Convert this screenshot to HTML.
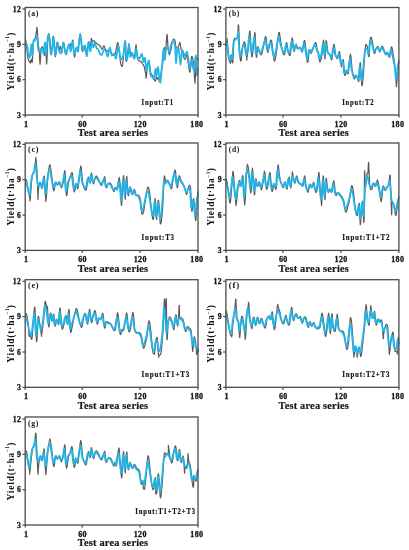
<!DOCTYPE html><html><head><meta charset="utf-8"><style>html,body{margin:0;padding:0;background:#fff;width:409px;height:550px;overflow:hidden}svg{display:block}text{font-family:"Liberation Serif","Times New Roman",serif;font-weight:bold;fill:#161616}</style></head><body>
<svg width="409" height="550" viewBox="0 0 409 550">
<defs><filter id="bl" x="-5%" y="-5%" width="110%" height="110%"><feGaussianBlur stdDeviation="0.35"/></filter></defs>
<g>
<g filter="url(#bl)">
<path fill="none" stroke="#605858" stroke-width="1.2" stroke-linejoin="round" d="M25.5,39.1C25.6,40.0 26.1,42.0 26.4,44.5C26.7,47.0 27.1,51.7 27.4,54.3C27.7,56.9 28.1,59.0 28.4,60.1C28.7,61.2 29.1,60.6 29.4,61.1C29.7,61.6 30.1,63.4 30.4,63.1C30.7,62.8 31.0,59.4 31.3,59.2C31.6,59.0 32.0,63.9 32.3,62.1C32.6,60.3 32.8,52.0 33.0,48.4C33.2,44.8 33.5,42.1 33.8,40.6C34.1,39.0 34.5,39.8 34.8,39.1C35.1,38.5 35.3,37.6 35.5,36.7C35.7,35.8 36.0,35.2 36.2,33.7C36.5,32.2 36.8,26.9 37.0,27.4C37.2,27.9 37.5,33.7 37.7,36.7C38.0,39.7 38.2,43.1 38.5,45.5C38.8,47.9 38.9,48.2 39.2,51.3C39.5,54.4 39.8,64.4 40.1,64.1C40.4,63.8 40.7,52.3 41.1,49.4C41.5,46.5 42.2,46.7 42.6,46.9C43.0,47.1 43.3,49.0 43.6,50.4C43.9,51.8 44.2,56.6 44.5,55.3C44.8,54.0 45.1,41.0 45.5,42.5C45.9,44.0 46.3,64.2 46.7,64.1C47.1,63.9 47.3,46.7 47.7,41.6C48.1,36.5 48.5,33.6 48.9,33.7C49.3,33.9 49.8,39.6 50.2,42.5C50.6,45.4 51.0,50.6 51.4,51.3C51.8,51.9 52.1,48.9 52.4,46.4C52.7,43.9 53.0,36.5 53.3,36.2C53.6,35.9 54.0,41.1 54.3,44.5C54.6,47.9 54.9,56.5 55.3,56.7C55.7,56.9 56.1,47.9 56.5,45.5C56.9,43.1 57.3,41.7 57.7,42.5C58.1,43.3 58.3,49.8 58.7,50.4C59.1,51.1 59.7,46.1 60.2,46.4C60.7,46.7 61.2,52.9 61.7,52.3C62.2,51.7 62.8,43.2 63.3,43.0C63.8,42.8 64.4,49.4 64.9,51.3C65.4,53.2 65.7,54.6 66.1,54.3C66.5,54.0 67.0,50.9 67.4,49.4C67.9,47.9 68.3,46.4 68.8,45.5C69.3,44.6 69.9,43.7 70.3,44.0C70.7,44.3 70.9,48.1 71.3,47.4C71.7,46.8 72.4,39.6 72.8,40.1C73.2,40.6 73.4,47.6 73.7,50.4C74.0,53.3 74.4,57.4 74.7,57.2C75.0,57.0 75.4,51.0 75.7,49.4C76.0,47.8 76.4,47.4 76.7,47.4C77.0,47.4 77.2,50.1 77.6,49.4C77.9,48.8 78.4,46.1 78.8,43.5C79.2,40.9 79.7,34.0 80.1,33.7C80.5,33.4 80.8,39.0 81.1,41.6C81.4,44.2 81.7,47.8 82.0,49.4C82.3,51.0 82.7,51.8 83.0,51.3C83.3,50.8 83.6,46.4 84.0,46.4C84.4,46.4 85.1,50.1 85.5,51.3C85.9,52.4 86.1,54.0 86.4,53.3C86.8,52.7 87.2,49.4 87.6,47.4C88.0,45.5 88.4,41.6 88.9,41.6C89.4,41.6 90.0,47.9 90.4,47.4C90.8,46.9 91.0,39.6 91.3,38.6C91.6,37.6 91.9,41.3 92.3,41.6C92.7,41.9 93.3,40.4 93.8,40.6C94.3,40.7 94.8,42.0 95.3,42.5C95.8,43.0 96.2,43.2 96.7,43.5C97.2,43.8 97.7,44.2 98.2,44.5C98.7,44.8 99.2,45.0 99.7,45.5C100.2,46.0 100.5,47.0 101.0,47.6C101.5,48.2 101.9,49.4 102.4,49.1C102.9,48.8 103.4,45.5 103.9,45.6C104.4,45.7 104.9,48.8 105.4,49.6C105.9,50.4 106.3,50.2 106.8,50.5C107.3,50.8 107.8,51.8 108.3,51.5C108.8,51.2 109.3,48.3 109.8,48.6C110.3,48.9 110.7,52.4 111.2,53.5C111.7,54.6 112.2,55.2 112.7,55.4C113.2,55.5 113.7,54.9 114.2,54.4C114.7,53.9 115.0,54.5 115.6,52.5C116.2,50.6 117.0,43.2 117.6,42.7C118.2,42.2 118.6,46.3 119.1,49.6C119.6,52.9 120.0,59.5 120.5,62.3C121.0,65.1 121.8,67.3 122.3,66.2C122.8,65.0 123.1,59.0 123.5,55.4C123.9,51.8 124.5,43.7 124.9,44.7C125.4,45.7 125.7,60.0 126.2,61.3C126.7,62.6 127.2,55.4 127.7,52.5C128.2,49.6 128.6,43.5 129.0,43.7C129.4,43.9 129.8,52.0 130.3,53.5C130.8,55.0 131.3,52.2 131.8,52.5C132.3,52.8 132.8,54.4 133.3,55.4C133.8,56.4 134.2,60.2 134.7,58.4C135.1,56.6 135.6,45.0 136.0,44.7C136.4,44.4 136.8,53.8 137.2,56.4C137.6,59.0 138.2,59.5 138.6,60.3C139.0,61.1 139.1,60.8 139.5,61.0C139.9,61.2 140.5,61.0 141.0,61.5C141.5,62.0 142.1,63.4 142.5,64.0C142.9,64.6 143.2,64.3 143.5,65.0C143.8,65.7 144.2,66.7 144.5,68.0C144.8,69.3 145.2,71.3 145.5,73.0C145.8,74.7 145.9,78.8 146.2,78.0C146.5,77.2 146.8,70.5 147.2,68.0C147.6,65.5 148.1,63.5 148.5,63.0C148.9,62.5 149.2,63.5 149.5,65.0C149.8,66.5 150.1,70.3 150.5,72.0C150.9,73.7 151.5,74.2 152.0,75.0C152.5,75.8 153.1,76.2 153.5,77.0C153.9,77.8 154.2,79.3 154.5,80.0C154.8,80.7 155.2,81.5 155.5,81.0C155.8,80.5 156.2,77.3 156.5,77.0C156.8,76.7 157.2,78.8 157.5,79.0C157.8,79.2 158.2,77.5 158.5,78.0C158.8,78.5 159.2,82.0 159.5,82.0C159.8,82.0 160.2,80.2 160.5,78.0C160.8,75.8 161.2,71.0 161.5,69.0C161.8,67.0 162.2,68.7 162.5,66.0C162.8,63.3 163.2,56.1 163.5,53.0C163.8,49.9 164.2,47.7 164.5,47.5C164.8,47.3 165.1,54.2 165.5,52.0C165.9,49.8 166.6,35.3 167.0,34.5C167.4,33.7 167.6,43.7 168.0,47.0C168.4,50.3 168.8,54.2 169.3,54.5C169.8,54.8 170.5,51.2 171.0,49.0C171.5,46.7 172.0,42.7 172.5,41.0C173.0,39.3 173.6,39.0 174.0,39.0C174.4,39.0 174.7,39.7 175.0,41.0C175.3,42.3 175.6,45.8 176.0,47.0C176.4,48.2 177.0,48.3 177.5,48.0C178.0,47.7 178.6,45.9 179.0,45.0C179.4,44.1 179.7,41.8 180.0,42.5C180.3,43.2 180.6,47.6 181.0,49.0C181.4,50.4 182.0,49.5 182.5,51.0C183.0,52.5 183.5,56.7 184.0,58.0C184.5,59.3 185.0,59.5 185.5,59.0C186.0,58.5 186.5,54.0 187.0,55.0C187.5,56.0 188.0,62.2 188.5,65.0C189.0,67.8 189.5,73.3 190.0,72.0C190.5,70.7 191.0,59.0 191.5,57.0C192.0,55.0 192.6,58.2 193.0,60.0C193.4,61.8 193.7,64.0 194.0,68.0C194.3,72.0 194.7,84.0 195.0,84.0C195.3,84.0 195.6,72.3 195.8,68.0C196.1,63.7 196.1,59.3 196.5,58.0C196.9,56.7 197.8,59.7 198.0,60.0"/>
<path fill="none" stroke="#22b5e8" stroke-width="1.75" stroke-linejoin="round" d="M25.5,46.5C25.7,46.2 26.4,43.2 26.9,44.5C27.4,45.8 27.9,52.2 28.4,54.3C28.9,56.4 29.4,58.8 29.9,57.2C30.4,55.6 30.9,44.8 31.3,44.5C31.7,44.2 32.0,55.8 32.3,55.3C32.6,54.8 32.9,44.1 33.3,41.6C33.7,39.2 34.3,41.3 34.8,40.6C35.3,39.9 35.8,38.2 36.2,37.6C36.6,36.9 36.9,34.7 37.2,36.7C37.5,38.7 37.8,47.0 38.2,49.4C38.6,51.8 39.1,51.5 39.6,51.3C40.1,51.1 40.6,48.7 41.1,48.4C41.6,48.1 42.2,48.6 42.6,49.4C43.0,50.2 43.2,54.4 43.6,53.3C44.0,52.2 44.6,42.8 45.0,43.0C45.4,43.2 45.5,55.5 46.0,54.3C46.5,53.1 47.4,38.2 48.0,35.7C48.6,33.3 48.9,36.5 49.4,39.6C49.9,42.7 50.4,53.0 50.9,54.3C51.4,55.6 52.0,50.3 52.4,47.4C52.8,44.5 52.9,36.0 53.3,36.7C53.7,37.3 54.4,48.4 54.8,51.3C55.2,54.2 55.4,55.6 55.8,54.3C56.2,53.0 56.7,44.0 57.3,43.5C57.9,43.0 58.6,49.7 59.2,51.3C59.9,52.9 60.7,53.5 61.2,53.3C61.7,53.2 61.6,52.2 62.0,50.4C62.4,48.6 62.9,41.9 63.5,42.5C64.2,43.1 65.2,53.5 65.9,54.3C66.6,55.1 67.3,49.0 67.9,47.4C68.5,45.8 68.8,43.8 69.3,44.5C69.8,45.1 70.2,51.8 70.8,51.3C71.4,50.8 72.2,41.1 72.8,41.6C73.4,42.1 73.5,53.3 74.2,54.3C74.8,55.3 76.0,47.9 76.7,47.4C77.4,46.9 77.5,53.4 78.1,51.3C78.7,49.2 79.5,36.0 80.1,34.7C80.7,33.4 81.1,40.9 81.6,43.5C82.1,46.1 82.4,50.1 83.0,50.4C83.6,50.7 84.3,44.5 85.0,45.5C85.7,46.5 86.3,56.7 86.9,56.2C87.5,55.7 87.8,43.3 88.4,42.5C89.0,41.7 89.8,51.4 90.4,51.3C91.0,51.1 91.3,42.3 91.8,41.6C92.3,41.0 92.8,47.1 93.3,47.4C93.8,47.7 94.2,43.3 94.8,43.5C95.4,43.7 96.1,47.4 96.7,48.4C97.3,49.4 97.6,48.4 98.2,49.4C98.8,50.4 99.5,53.5 100.1,54.3C100.7,55.1 101.4,55.2 102.0,54.4C102.6,53.6 103.2,50.1 103.9,49.6C104.6,49.1 105.2,50.4 105.9,51.5C106.6,52.6 107.2,57.0 107.8,56.4C108.4,55.7 109.1,47.8 109.8,47.6C110.5,47.4 111.0,54.4 111.7,55.4C112.4,56.4 113.5,53.0 114.2,53.5C114.9,54.0 115.5,59.7 116.1,58.4C116.8,57.1 117.5,46.1 118.1,45.6C118.8,45.1 119.4,53.1 120.0,55.4C120.6,57.7 120.9,59.5 121.5,59.3C122.1,59.1 122.9,57.5 123.5,54.4C124.1,51.3 124.7,40.0 125.2,40.8C125.7,41.6 126.0,56.9 126.4,59.3C126.9,61.7 127.5,57.8 127.9,55.4C128.3,53.0 128.7,44.5 129.1,44.7C129.5,44.9 129.8,54.9 130.3,56.4C130.8,57.9 131.6,53.2 132.3,53.5C132.9,53.8 133.5,59.2 134.2,58.4C134.8,57.6 135.6,48.6 136.2,48.6C136.8,48.6 137.1,56.9 137.7,58.4C138.3,59.9 139.2,57.5 139.6,57.4C140.0,57.3 139.6,58.6 140.0,58.0C140.4,57.4 141.4,53.3 142.0,54.0C142.6,54.7 143.0,61.3 143.5,62.0C144.0,62.7 144.5,56.7 145.0,58.0C145.5,59.3 146.0,69.2 146.5,70.0C147.0,70.8 147.6,64.5 148.0,63.0C148.4,61.5 148.6,59.0 149.0,61.0C149.4,63.0 149.9,72.3 150.5,75.0C151.1,77.7 151.9,76.3 152.5,77.0C153.1,77.7 153.5,80.3 154.0,79.0C154.5,77.7 155.1,69.5 155.5,69.0C155.9,68.5 156.1,76.3 156.5,76.0C156.9,75.7 157.5,66.5 158.0,67.0C158.5,67.5 159.1,76.5 159.5,79.0C159.9,81.5 160.1,84.0 160.5,82.0C160.9,80.0 161.5,72.4 162.0,67.0C162.5,61.6 163.0,50.7 163.5,49.5C164.0,48.3 164.6,60.2 165.0,60.0C165.4,59.8 165.5,49.8 166.0,48.0C166.5,46.2 167.4,48.3 168.0,49.0C168.6,49.7 169.0,52.7 169.5,52.0C170.0,51.3 170.4,46.8 171.0,45.0C171.6,43.2 172.3,40.8 173.0,41.0C173.7,41.2 174.5,42.3 175.0,46.0C175.5,49.7 175.6,62.7 176.0,63.0C176.4,63.3 177.0,50.0 177.5,48.0C178.0,46.0 178.5,48.2 179.0,51.0C179.5,53.8 180.0,65.0 180.5,65.0C181.0,65.0 181.5,53.0 182.0,51.0C182.5,49.0 183.0,52.2 183.5,53.0C184.0,53.8 184.4,56.2 185.0,56.0C185.6,55.8 186.4,51.3 187.0,52.0C187.6,52.7 188.0,57.2 188.5,60.0C189.0,62.8 189.4,68.8 190.0,69.0C190.6,69.2 191.4,60.8 192.0,61.0C192.6,61.2 193.0,70.0 193.5,70.0C194.0,70.0 194.6,63.3 195.0,61.0C195.4,58.7 195.7,53.7 196.0,56.0C196.3,58.3 196.5,73.0 196.8,75.0C197.1,77.0 197.8,69.2 198.0,68.0"/>
</g>
<rect x="25.2" y="7.5" width="172.8" height="107.5" fill="none" stroke="#4a4a4a" stroke-width="1.3"/>
<line x1="22.4" y1="9.0" x2="25.2" y2="9.0" stroke="#4a4a4a" stroke-width="1.2"/>
<text x="21.3" y="11.7" font-size="7.7" letter-spacing="0.4" text-anchor="end" stroke="#161616" stroke-width="0.3">12</text>
<line x1="22.4" y1="44.3" x2="25.2" y2="44.3" stroke="#4a4a4a" stroke-width="1.2"/>
<text x="21.3" y="47.0" font-size="7.7" letter-spacing="0.4" text-anchor="end" stroke="#161616" stroke-width="0.3">9</text>
<line x1="22.4" y1="79.7" x2="25.2" y2="79.7" stroke="#4a4a4a" stroke-width="1.2"/>
<text x="21.3" y="82.4" font-size="7.7" letter-spacing="0.4" text-anchor="end" stroke="#161616" stroke-width="0.3">6</text>
<line x1="22.4" y1="115.0" x2="25.2" y2="115.0" stroke="#4a4a4a" stroke-width="1.2"/>
<text x="21.3" y="117.7" font-size="7.7" letter-spacing="0.4" text-anchor="end" stroke="#161616" stroke-width="0.3">3</text>
<line x1="25.2" y1="115.0" x2="25.2" y2="117.6" stroke="#4a4a4a" stroke-width="1.2"/>
<text x="26.1" y="127.0" font-size="8.0" letter-spacing="0.35" text-anchor="middle" stroke="#161616" stroke-width="0.3">1</text>
<line x1="82.2" y1="115.0" x2="82.2" y2="117.6" stroke="#4a4a4a" stroke-width="1.2"/>
<text x="82.6" y="127.0" font-size="8.0" letter-spacing="0.35" text-anchor="middle" stroke="#161616" stroke-width="0.3">60</text>
<line x1="140.1" y1="115.0" x2="140.1" y2="117.6" stroke="#4a4a4a" stroke-width="1.2"/>
<text x="140.3" y="127.0" font-size="8.0" letter-spacing="0.35" text-anchor="middle" stroke="#161616" stroke-width="0.3">120</text>
<line x1="198.0" y1="115.0" x2="198.0" y2="117.6" stroke="#4a4a4a" stroke-width="1.2"/>
<text x="196.9" y="127.0" font-size="8.0" letter-spacing="0.35" text-anchor="middle" stroke="#161616" stroke-width="0.3">180</text>
<text x="77.8" y="136.2" font-size="10.3" letter-spacing="0.2" stroke="#161616" stroke-width="0.2" textLength="70.5" lengthAdjust="spacingAndGlyphs">Test area series</text>
<text transform="translate(13.6,90.4) rotate(-90)" font-size="9.4" letter-spacing="0.8" textLength="58.5" lengthAdjust="spacingAndGlyphs">Yield(t·ha<tspan font-size="5.2" dy="-4.4" letter-spacing="0.3">−1</tspan><tspan dy="4.4">)</tspan></text>
<text x="28.1" y="16.1" font-size="8" letter-spacing="0.6" textLength="11" lengthAdjust="spacingAndGlyphs">(a)</text>
<text x="141.5" y="104.9" font-size="7.4" letter-spacing="0.9" stroke="#161616" stroke-width="0.2" textLength="32.4" lengthAdjust="spacingAndGlyphs">Input:T1</text>
</g>
<g>
<g filter="url(#bl)">
<path fill="none" stroke="#605858" stroke-width="1.2" stroke-linejoin="round" d="M227.0,37.9C227.3,41.4 228.5,54.7 229.0,58.8C229.5,63.0 229.9,62.1 230.2,62.7C230.5,63.3 230.5,63.8 230.7,62.5C230.9,61.2 231.2,55.2 231.5,55.2C231.9,55.2 232.4,64.8 232.8,62.4C233.2,59.9 233.5,44.3 234.0,40.3C234.5,36.4 235.3,39.5 235.9,38.8C236.6,38.0 237.5,37.8 237.9,35.8C238.3,33.9 238.0,28.6 238.1,27.2C238.2,25.8 238.4,22.7 238.7,27.2C239.0,31.7 239.4,48.4 239.8,54.0C240.2,59.6 240.5,62.1 241.0,60.8C241.5,59.4 242.3,48.8 242.9,45.8C243.6,42.8 244.2,40.5 244.8,42.5C245.5,44.5 246.4,55.3 246.7,58.0C247.1,60.7 246.5,60.7 246.8,59.0C247.1,57.2 247.9,52.2 248.4,47.5C248.9,42.9 249.4,29.6 249.9,31.1C250.5,32.6 251.2,54.6 251.8,56.6C252.5,58.6 253.2,47.1 253.7,43.1C254.3,39.2 254.6,30.7 255.0,33.0C255.5,35.3 255.9,54.7 256.3,57.0C256.8,59.3 257.3,47.8 257.8,46.9C258.4,46.0 258.9,50.2 259.5,51.5C260.1,52.8 260.8,55.4 261.4,54.7C262.1,53.9 262.6,50.1 263.3,47.0C264.1,44.0 265.1,35.7 265.8,36.6C266.6,37.5 267.1,51.0 267.7,52.2C268.4,53.4 269.0,45.8 269.7,44.0C270.3,42.1 270.8,38.3 271.6,41.1C272.3,43.9 273.4,58.6 274.2,60.6C274.9,62.7 275.5,58.0 276.3,53.4C277.0,48.7 278.1,34.5 278.9,32.6C279.6,30.8 280.1,38.9 280.8,42.1C281.4,45.3 282.0,49.9 282.7,52.0C283.3,54.0 283.9,55.9 284.6,54.3C285.2,52.8 285.8,42.8 286.5,42.5C287.1,42.2 287.7,50.4 288.4,52.5C289.0,54.5 289.6,57.0 290.3,54.6C290.9,52.1 291.5,38.5 292.2,37.9C292.8,37.3 293.4,50.1 294.1,51.2C294.7,52.2 295.3,44.6 296.0,44.2C296.6,43.8 297.1,48.3 297.9,48.8C298.6,49.4 299.7,47.0 300.5,47.5C301.2,48.0 301.7,52.9 302.4,51.8C303.1,50.6 303.8,38.9 304.7,40.6C305.5,42.4 306.7,60.8 307.5,62.3C308.3,63.9 308.8,51.3 309.4,49.8C310.0,48.3 310.6,53.8 311.3,53.3C312.0,52.8 313.1,48.3 313.8,46.6C314.5,44.8 315.1,42.0 315.7,42.7C316.3,43.5 317.1,49.7 317.6,51.3C318.1,52.9 318.1,50.7 318.5,52.5C318.9,54.3 319.3,61.3 319.8,61.9C320.3,62.4 321.1,59.4 321.7,55.8C322.3,52.1 323.1,39.5 323.6,40.1C324.1,40.6 324.5,58.9 324.9,59.0C325.3,59.2 325.6,41.8 326.1,40.7C326.6,39.6 327.4,50.0 328.0,52.4C328.7,54.8 329.4,53.9 330.0,55.1C330.7,56.3 331.3,61.3 331.9,59.6C332.6,57.8 333.2,45.0 333.8,44.3C334.5,43.6 335.1,53.0 335.7,55.3C336.4,57.7 337.0,59.1 337.6,58.5C338.3,57.9 338.9,50.5 339.5,51.7C340.1,53.0 341.0,63.8 341.3,66.0C341.7,68.2 341.1,65.9 341.4,64.9C341.8,63.9 342.8,58.3 343.3,60.0C343.9,61.7 344.1,73.1 344.6,75.1C345.2,77.0 345.9,72.1 346.5,71.8C347.2,71.4 347.8,75.8 348.4,72.9C349.1,69.9 349.7,54.6 350.3,54.1C351.0,53.7 351.6,66.0 352.2,70.2C352.9,74.3 353.5,78.0 354.1,78.9C354.8,79.7 355.4,75.1 356.1,75.2C356.7,75.3 357.5,78.4 358.0,79.3C358.4,80.2 358.5,83.2 358.9,80.4C359.2,77.6 359.8,61.9 360.3,62.7C360.8,63.6 361.3,83.7 361.9,85.5C362.4,87.2 362.9,79.8 363.5,73.4C364.0,67.0 364.7,51.3 365.4,46.8C366.0,42.4 366.7,45.1 367.3,46.8C367.9,48.4 368.4,58.0 369.0,56.6C369.5,55.1 369.9,40.5 370.5,38.0C371.0,35.5 371.7,39.2 372.4,41.8C373.0,44.3 373.6,52.2 374.3,53.4C374.9,54.5 375.5,50.0 376.2,48.8C376.8,47.7 377.4,46.0 378.1,46.6C378.7,47.2 379.3,52.3 380.0,52.2C380.6,52.2 381.2,46.7 381.9,46.2C382.5,45.8 383.2,48.2 383.9,49.6C384.5,51.0 385.2,54.1 385.8,54.6C386.4,55.1 387.1,52.0 387.7,52.5C388.3,52.9 389.0,58.2 389.6,57.3C390.2,56.4 390.9,47.2 391.5,46.9C392.1,46.6 392.8,51.8 393.4,55.5C394.0,59.3 394.8,64.7 395.3,69.4C395.8,74.2 396.1,81.4 396.3,84.0C396.5,86.6 396.3,87.9 396.6,84.9C396.9,81.9 397.8,70.2 398.2,66.1C398.6,61.9 398.8,61.0 398.9,60.0"/>
<path fill="none" stroke="#22b5e8" stroke-width="1.75" stroke-linejoin="round" d="M226.5,41.0C226.8,43.6 228.0,53.1 228.5,56.3C229.0,59.5 229.3,60.3 229.7,60.1C230.1,59.9 230.6,55.2 231.0,55.0C231.4,54.8 231.9,61.0 232.3,58.9C232.7,56.8 233.0,45.5 233.5,42.3C234.0,39.1 234.8,40.6 235.4,39.8C236.1,39.0 236.9,38.6 237.4,37.3C237.9,36.0 237.9,29.9 238.2,32.2C238.5,34.5 238.9,47.2 239.3,51.2C239.7,55.2 240.0,56.9 240.5,56.3C241.0,55.7 241.8,49.3 242.4,47.4C243.1,45.5 243.7,43.6 244.3,44.9C245.0,46.2 245.7,54.6 246.3,55.0C246.9,55.4 247.4,50.6 247.9,47.4C248.4,44.2 248.9,35.2 249.4,36.0C250.0,36.9 250.7,51.2 251.3,52.5C252.0,53.8 252.7,46.1 253.2,43.6C253.8,41.1 254.1,35.6 254.5,37.3C255.0,39.0 255.4,52.1 255.8,53.8C256.3,55.5 256.8,47.8 257.3,47.4C257.9,47.0 258.4,50.3 259.0,51.2C259.6,52.0 260.3,53.1 260.9,52.5C261.6,51.9 262.1,49.5 262.8,47.4C263.6,45.3 264.6,39.4 265.3,39.8C266.1,40.2 266.6,49.1 267.2,50.0C267.9,50.9 268.5,46.0 269.1,44.9C269.8,43.8 270.3,41.7 271.1,43.6C271.8,45.5 272.9,55.0 273.7,56.3C274.4,57.6 275.0,54.4 275.8,51.2C276.5,48.0 277.6,38.6 278.4,37.3C279.1,36.0 279.6,41.5 280.3,43.6C280.9,45.7 281.5,48.5 282.2,50.0C282.8,51.5 283.4,53.4 284.1,52.5C284.7,51.7 285.3,45.1 286.0,44.9C286.6,44.7 287.2,49.9 287.9,51.2C288.5,52.5 289.1,54.2 289.8,52.5C290.4,50.8 291.0,41.4 291.7,41.0C292.3,40.6 292.9,49.4 293.6,50.0C294.2,50.6 294.8,45.1 295.5,44.9C296.1,44.7 296.6,48.3 297.4,48.7C298.1,49.1 299.2,47.0 300.0,47.4C300.7,47.8 301.2,51.8 301.9,51.2C302.6,50.6 303.3,42.3 304.2,43.6C305.0,44.9 306.2,57.8 307.0,58.9C307.8,60.0 308.3,51.1 308.9,50.0C309.5,48.9 310.1,52.9 310.8,52.5C311.5,52.1 312.6,48.7 313.3,47.4C314.0,46.1 314.6,44.3 315.2,44.9C315.8,45.5 316.6,49.9 317.1,51.2C317.6,52.5 317.6,51.2 318.0,52.5C318.4,53.8 318.8,58.5 319.3,58.9C319.8,59.3 320.6,57.6 321.2,55.0C321.8,52.5 322.6,43.4 323.1,43.6C323.6,43.8 324.0,56.3 324.4,56.3C324.8,56.3 325.1,44.2 325.6,43.6C326.1,43.0 326.9,50.8 327.5,52.5C328.2,54.2 328.9,52.9 329.5,53.8C330.2,54.6 330.8,58.7 331.4,57.6C332.1,56.5 332.7,47.8 333.3,47.4C334.0,47.0 334.6,53.3 335.2,55.0C335.9,56.7 336.5,57.8 337.1,57.6C337.8,57.4 338.4,52.7 339.0,53.8C339.7,54.9 340.3,62.7 340.9,64.0C341.6,65.3 342.3,59.9 342.8,61.4C343.4,62.9 343.6,71.4 344.1,72.9C344.7,74.4 345.4,70.5 346.0,70.3C346.7,70.1 347.3,73.5 347.9,71.6C348.6,69.7 349.2,59.1 349.8,58.9C350.5,58.7 351.1,67.3 351.7,70.3C352.4,73.3 353.0,75.8 353.6,76.7C354.3,77.6 354.9,75.2 355.5,75.4C356.2,75.6 357.0,77.4 357.5,78.0C357.9,78.6 358.0,80.9 358.4,79.0C358.7,77.1 359.3,66.2 359.8,66.5C360.3,66.8 360.8,79.9 361.4,80.5C361.9,81.1 362.4,75.2 363.0,70.3C363.5,65.4 364.2,54.8 364.9,51.2C365.5,47.6 366.2,48.3 366.8,48.7C367.4,49.1 367.9,55.1 368.5,53.8C369.0,52.5 369.4,42.7 370.0,41.0C370.5,39.3 371.2,41.9 371.9,43.6C372.5,45.3 373.1,50.3 373.8,51.2C374.4,52.0 375.0,49.3 375.7,48.7C376.3,48.1 376.9,47.0 377.6,47.4C378.2,47.8 378.8,51.2 379.5,51.2C380.1,51.2 380.7,47.6 381.4,47.4C382.0,47.2 382.7,48.9 383.4,50.0C384.0,51.1 384.7,53.4 385.3,53.8C385.9,54.2 386.6,52.1 387.2,52.5C387.8,52.9 388.5,56.7 389.1,56.3C389.7,55.9 390.4,49.8 391.0,50.0C391.6,50.2 392.3,54.6 392.9,57.6C393.5,60.6 394.3,64.2 394.8,67.8C395.3,71.4 395.6,79.4 396.1,79.2C396.6,79.0 397.2,69.4 397.7,66.5C398.2,63.6 398.7,62.8 398.9,62.0"/>
</g>
<rect x="225.9" y="7.5" width="173.0" height="107.5" fill="none" stroke="#4a4a4a" stroke-width="1.3"/>
<line x1="223.1" y1="9.0" x2="225.9" y2="9.0" stroke="#4a4a4a" stroke-width="1.2"/>
<text x="222.0" y="11.7" font-size="7.7" letter-spacing="0.4" text-anchor="end" stroke="#161616" stroke-width="0.3">12</text>
<line x1="223.1" y1="44.3" x2="225.9" y2="44.3" stroke="#4a4a4a" stroke-width="1.2"/>
<text x="222.0" y="47.0" font-size="7.7" letter-spacing="0.4" text-anchor="end" stroke="#161616" stroke-width="0.3">9</text>
<line x1="223.1" y1="79.7" x2="225.9" y2="79.7" stroke="#4a4a4a" stroke-width="1.2"/>
<text x="222.0" y="82.4" font-size="7.7" letter-spacing="0.4" text-anchor="end" stroke="#161616" stroke-width="0.3">6</text>
<line x1="223.1" y1="115.0" x2="225.9" y2="115.0" stroke="#4a4a4a" stroke-width="1.2"/>
<text x="222.0" y="117.7" font-size="7.7" letter-spacing="0.4" text-anchor="end" stroke="#161616" stroke-width="0.3">3</text>
<line x1="225.9" y1="115.0" x2="225.9" y2="117.6" stroke="#4a4a4a" stroke-width="1.2"/>
<text x="226.8" y="127.0" font-size="8.0" letter-spacing="0.35" text-anchor="middle" stroke="#161616" stroke-width="0.3">1</text>
<line x1="282.9" y1="115.0" x2="282.9" y2="117.6" stroke="#4a4a4a" stroke-width="1.2"/>
<text x="283.3" y="127.0" font-size="8.0" letter-spacing="0.35" text-anchor="middle" stroke="#161616" stroke-width="0.3">60</text>
<line x1="340.9" y1="115.0" x2="340.9" y2="117.6" stroke="#4a4a4a" stroke-width="1.2"/>
<text x="341.1" y="127.0" font-size="8.0" letter-spacing="0.35" text-anchor="middle" stroke="#161616" stroke-width="0.3">120</text>
<line x1="398.9" y1="115.0" x2="398.9" y2="117.6" stroke="#4a4a4a" stroke-width="1.2"/>
<text x="397.8" y="127.0" font-size="8.0" letter-spacing="0.35" text-anchor="middle" stroke="#161616" stroke-width="0.3">180</text>
<text x="278.5" y="136.2" font-size="10.3" letter-spacing="0.2" stroke="#161616" stroke-width="0.2" textLength="70.5" lengthAdjust="spacingAndGlyphs">Test area series</text>
<text transform="translate(214.3,90.4) rotate(-90)" font-size="9.4" letter-spacing="0.8" textLength="58.5" lengthAdjust="spacingAndGlyphs">Yield(t·ha<tspan font-size="5.2" dy="-4.4" letter-spacing="0.3">−1</tspan><tspan dy="4.4">)</tspan></text>
<text x="228.8" y="16.1" font-size="8" letter-spacing="0.6" textLength="11" lengthAdjust="spacingAndGlyphs">(b)</text>
<text x="342.2" y="104.9" font-size="7.4" letter-spacing="0.9" stroke="#161616" stroke-width="0.2" textLength="32.1" lengthAdjust="spacingAndGlyphs">Input:T2</text>
</g>
<g>
<g filter="url(#bl)">
<path fill="none" stroke="#605858" stroke-width="1.2" stroke-linejoin="round" d="M26.4,179.3C26.7,181.1 27.8,187.1 28.3,190.2C28.9,193.2 29.4,196.1 29.7,197.7C30.0,199.3 29.9,202.5 30.2,199.9C30.5,197.3 31.1,186.7 31.5,182.3C31.9,177.9 32.3,175.3 32.8,173.5C33.3,171.8 33.9,173.7 34.4,171.6C34.9,169.6 35.2,163.4 35.5,161.2C35.8,159.0 35.6,155.9 35.9,158.4C36.2,160.9 36.9,169.3 37.2,176.1C37.6,182.9 37.8,196.8 38.0,199.0C38.2,201.2 38.1,192.1 38.5,189.4C38.9,186.6 39.8,182.7 40.4,182.5C41.0,182.3 41.7,189.4 42.3,188.3C42.9,187.2 43.7,174.7 44.2,176.2C44.8,177.7 45.3,193.5 45.6,197.4C45.9,201.3 45.7,203.0 46.1,199.5C46.5,196.0 47.4,182.2 48.0,176.4C48.6,170.5 49.3,164.5 49.9,164.6C50.5,164.6 51.2,172.2 51.8,176.6C52.4,181.0 53.1,189.8 53.7,190.7C54.4,191.6 55.1,183.1 55.7,182.2C56.4,181.2 57.0,185.2 57.6,185.1C58.2,185.1 58.9,181.3 59.5,181.8C60.1,182.3 60.8,188.0 61.4,188.0C62.0,188.0 62.7,184.8 63.3,181.9C63.9,179.1 64.4,168.7 64.9,170.9C65.4,173.2 65.8,193.5 66.4,195.5C67.0,197.6 67.8,186.4 68.4,183.2C69.0,180.0 69.6,178.0 70.3,176.4C71.0,174.8 71.8,171.0 72.4,173.5C73.0,176.0 73.5,189.7 74.1,191.6C74.7,193.4 75.5,185.5 76.2,184.8C76.9,184.2 77.3,191.0 78.1,187.9C78.8,184.8 80.0,167.0 80.7,166.1C81.5,165.2 82.0,178.6 82.6,182.3C83.2,186.0 83.9,187.3 84.5,188.5C85.1,189.7 85.8,191.2 86.4,189.3C87.0,187.4 87.7,178.2 88.3,177.1C88.9,176.1 89.7,183.7 90.2,183.0C90.7,182.3 91.0,172.7 91.5,172.9C92.0,173.0 92.7,183.2 93.4,183.8C94.1,184.3 95.1,177.0 95.9,176.3C96.8,175.5 97.7,177.9 98.5,179.3C99.3,180.8 100.3,184.7 101.0,185.2C101.7,185.7 102.3,183.9 102.9,182.5C103.5,181.1 104.3,175.8 104.8,176.7C105.3,177.5 105.5,186.5 106.1,187.6C106.7,188.7 107.8,183.8 108.6,183.2C109.4,182.7 110.3,183.0 111.2,184.3C112.1,185.7 113.0,190.9 113.7,191.5C114.4,192.1 115.0,188.3 115.6,187.9C116.2,187.6 116.9,191.1 117.5,189.4C118.1,187.6 118.7,177.2 119.2,177.4C119.7,177.7 120.3,186.4 120.7,191.0C121.1,195.6 121.1,207.5 121.6,205.0C122.1,202.4 122.9,176.6 123.5,175.7C124.1,174.7 124.6,199.1 125.1,199.3C125.6,199.4 126.2,177.1 126.7,176.5C127.2,175.8 127.6,193.8 128.2,195.5C128.8,197.2 129.5,186.9 130.2,186.8C130.9,186.7 131.7,194.3 132.4,194.7C133.1,195.1 133.7,188.9 134.3,189.0C134.9,189.0 135.4,193.9 136.2,195.0C136.9,196.0 138.1,194.3 138.8,195.4C139.6,196.4 140.2,198.1 140.7,201.2C141.2,204.2 141.4,212.1 141.9,213.7C142.4,215.3 143.2,213.1 143.8,210.5C144.4,208.0 145.0,202.1 145.7,198.2C146.3,194.3 147.0,188.3 147.7,187.3C148.3,186.3 149.0,188.2 149.6,192.1C150.2,196.0 150.9,205.9 151.5,210.4C152.1,214.9 152.8,221.2 153.4,219.2C154.0,217.1 154.8,198.1 155.3,198.2C155.8,198.2 156.0,219.1 156.5,219.4C157.0,219.8 157.8,199.3 158.5,200.1C159.2,200.8 159.7,222.4 160.4,223.8C161.1,225.2 162.0,216.2 162.6,208.4C163.2,200.6 163.7,181.5 164.2,177.1C164.7,172.7 165.2,181.6 165.8,182.1C166.4,182.6 167.1,179.8 167.7,180.2C168.3,180.5 169.0,182.7 169.6,184.2C170.2,185.6 170.9,189.8 171.5,188.7C172.1,187.6 172.8,180.4 173.4,177.3C174.0,174.3 174.7,168.8 175.3,170.5C175.9,172.2 176.6,186.7 177.2,187.6C177.8,188.6 178.5,177.2 179.1,176.0C179.7,174.8 180.4,179.2 181.0,180.4C181.6,181.6 182.3,182.1 182.9,183.4C183.5,184.6 184.2,186.0 184.8,187.8C185.4,189.7 186.1,194.6 186.7,194.4C187.3,194.2 188.0,187.9 188.6,186.7C189.2,185.6 190.0,183.4 190.5,187.5C191.0,191.6 191.3,209.3 191.8,211.2C192.3,213.1 193.1,197.2 193.7,198.8C194.3,200.4 195.1,219.9 195.6,220.6C196.1,221.4 196.5,208.4 196.9,203.5C197.3,198.6 197.8,193.2 198.0,191.2"/>
<path fill="none" stroke="#22b5e8" stroke-width="1.75" stroke-linejoin="round" d="M25.9,181.2C26.2,182.5 27.2,186.5 27.8,188.8C28.4,191.1 29.2,196.2 29.7,195.1C30.2,194.0 30.6,185.8 31.0,182.4C31.4,179.0 31.8,176.5 32.3,174.8C32.8,173.1 33.4,174.2 33.9,172.3C34.4,170.4 34.9,162.8 35.4,163.4C35.9,164.0 36.3,172.3 36.7,176.1C37.1,179.9 37.5,185.2 38.0,186.2C38.5,187.2 39.3,182.2 39.9,182.4C40.5,182.6 41.2,188.1 41.8,187.5C42.4,186.9 43.1,177.5 43.7,178.6C44.3,179.7 45.0,194.1 45.6,193.9C46.2,193.7 46.9,181.3 47.5,177.3C48.1,173.3 48.8,169.7 49.4,169.7C50.0,169.7 50.7,174.3 51.3,177.3C51.9,180.3 52.6,186.7 53.2,187.5C53.9,188.3 54.6,182.8 55.2,182.4C55.9,182.0 56.5,185.0 57.1,185.0C57.7,185.0 58.4,182.2 59.0,182.4C59.6,182.6 60.3,186.2 60.9,186.2C61.5,186.2 62.2,184.3 62.8,182.4C63.4,180.5 63.9,173.3 64.4,174.8C64.9,176.3 65.3,190.0 65.9,191.3C66.5,192.6 67.2,184.5 67.9,182.4C68.6,180.3 69.1,179.7 69.8,178.6C70.5,177.6 71.3,174.4 71.9,176.1C72.5,177.8 73.0,187.5 73.6,188.8C74.2,190.1 75.0,184.1 75.7,183.7C76.4,183.3 76.8,188.3 77.6,186.2C78.3,184.1 79.5,171.6 80.2,171.0C81.0,170.4 81.5,179.9 82.1,182.4C82.7,184.9 83.4,185.4 84.0,186.2C84.6,187.1 85.3,188.8 85.9,187.5C86.5,186.2 87.2,179.5 87.8,178.6C88.4,177.8 89.2,183.0 89.7,182.4C90.2,181.8 90.5,174.8 91.0,174.8C91.5,174.8 92.2,182.0 92.9,182.4C93.6,182.8 94.6,177.7 95.4,177.3C96.2,176.9 97.2,178.8 98.0,179.9C98.8,181.0 99.8,183.3 100.5,183.7C101.2,184.1 101.8,183.2 102.4,182.4C103.0,181.5 103.8,178.0 104.3,178.6C104.8,179.2 105.0,185.4 105.6,186.2C106.2,187.1 107.2,183.9 108.1,183.7C108.9,183.5 109.8,183.9 110.7,185.0C111.6,186.1 112.5,189.7 113.2,190.1C113.9,190.5 114.5,187.7 115.1,187.5C115.7,187.3 116.4,189.9 117.0,188.8C117.6,187.8 118.2,181.0 118.7,181.2C119.2,181.4 119.8,186.9 120.2,190.1C120.6,193.3 120.6,201.9 121.1,200.2C121.6,198.5 122.4,180.5 123.0,179.9C123.6,179.3 124.1,196.4 124.6,196.4C125.1,196.4 125.7,180.3 126.2,179.9C126.7,179.5 127.1,192.6 127.7,193.9C128.3,195.2 129.0,187.5 129.7,187.5C130.4,187.5 131.2,193.5 131.9,193.9C132.6,194.3 133.2,189.9 133.8,190.1C134.4,190.3 134.9,194.1 135.7,195.1C136.4,196.2 137.6,195.3 138.3,196.4C139.1,197.5 139.7,199.2 140.2,201.5C140.7,203.8 140.9,209.3 141.4,210.4C141.9,211.5 142.7,209.8 143.3,207.9C143.9,206.0 144.5,201.8 145.2,199.0C145.8,196.2 146.5,192.0 147.2,191.3C147.8,190.7 148.5,192.3 149.1,195.1C149.7,197.9 150.4,204.5 151.0,207.9C151.6,211.3 152.3,216.6 152.9,215.5C153.5,214.4 154.3,201.3 154.8,201.5C155.3,201.7 155.5,216.6 156.0,216.8C156.5,217.0 157.3,202.6 158.0,202.8C158.7,203.0 159.2,217.6 159.9,218.0C160.6,218.4 161.5,211.2 162.1,205.3C162.7,199.4 163.2,186.0 163.7,182.4C164.2,178.8 164.7,183.9 165.3,183.7C165.9,183.5 166.6,181.2 167.2,181.2C167.8,181.2 168.5,182.9 169.1,183.7C169.7,184.5 170.4,187.1 171.0,186.2C171.6,185.4 172.3,180.7 172.9,178.6C173.5,176.5 174.2,172.4 174.8,173.5C175.4,174.6 176.1,184.4 176.7,185.0C177.3,185.6 178.0,177.9 178.6,177.3C179.2,176.7 179.9,180.1 180.5,181.2C181.1,182.3 181.8,182.7 182.4,183.7C183.0,184.8 183.7,186.0 184.3,187.5C184.9,189.0 185.6,192.4 186.2,192.6C186.8,192.8 187.5,189.2 188.1,188.8C188.7,188.4 189.5,186.9 190.0,190.1C190.5,193.3 190.8,206.2 191.3,207.9C191.8,209.6 192.6,198.9 193.2,200.2C193.8,201.5 194.6,215.1 195.1,215.5C195.6,215.9 195.9,206.4 196.4,202.8C196.9,199.2 197.7,195.4 198.0,193.9"/>
</g>
<rect x="25.2" y="143.0" width="172.8" height="107.4" fill="none" stroke="#4a4a4a" stroke-width="1.3"/>
<line x1="22.4" y1="144.4" x2="25.2" y2="144.4" stroke="#4a4a4a" stroke-width="1.2"/>
<text x="21.3" y="147.1" font-size="7.7" letter-spacing="0.4" text-anchor="end" stroke="#161616" stroke-width="0.3">12</text>
<line x1="22.4" y1="179.7" x2="25.2" y2="179.7" stroke="#4a4a4a" stroke-width="1.2"/>
<text x="21.3" y="182.4" font-size="7.7" letter-spacing="0.4" text-anchor="end" stroke="#161616" stroke-width="0.3">9</text>
<line x1="22.4" y1="215.1" x2="25.2" y2="215.1" stroke="#4a4a4a" stroke-width="1.2"/>
<text x="21.3" y="217.8" font-size="7.7" letter-spacing="0.4" text-anchor="end" stroke="#161616" stroke-width="0.3">6</text>
<line x1="22.4" y1="250.4" x2="25.2" y2="250.4" stroke="#4a4a4a" stroke-width="1.2"/>
<text x="21.3" y="253.1" font-size="7.7" letter-spacing="0.4" text-anchor="end" stroke="#161616" stroke-width="0.3">3</text>
<line x1="25.2" y1="250.4" x2="25.2" y2="253.0" stroke="#4a4a4a" stroke-width="1.2"/>
<text x="26.1" y="262.4" font-size="8.0" letter-spacing="0.35" text-anchor="middle" stroke="#161616" stroke-width="0.3">1</text>
<line x1="82.2" y1="250.4" x2="82.2" y2="253.0" stroke="#4a4a4a" stroke-width="1.2"/>
<text x="82.6" y="262.4" font-size="8.0" letter-spacing="0.35" text-anchor="middle" stroke="#161616" stroke-width="0.3">60</text>
<line x1="140.1" y1="250.4" x2="140.1" y2="253.0" stroke="#4a4a4a" stroke-width="1.2"/>
<text x="140.3" y="262.4" font-size="8.0" letter-spacing="0.35" text-anchor="middle" stroke="#161616" stroke-width="0.3">120</text>
<line x1="198.0" y1="250.4" x2="198.0" y2="253.0" stroke="#4a4a4a" stroke-width="1.2"/>
<text x="196.9" y="262.4" font-size="8.0" letter-spacing="0.35" text-anchor="middle" stroke="#161616" stroke-width="0.3">180</text>
<text x="77.8" y="271.6" font-size="10.3" letter-spacing="0.2" stroke="#161616" stroke-width="0.2" textLength="70.5" lengthAdjust="spacingAndGlyphs">Test area series</text>
<text transform="translate(13.6,225.8) rotate(-90)" font-size="9.4" letter-spacing="0.8" textLength="58.5" lengthAdjust="spacingAndGlyphs">Yield(t·ha<tspan font-size="5.2" dy="-4.4" letter-spacing="0.3">−1</tspan><tspan dy="4.4">)</tspan></text>
<text x="28.1" y="151.6" font-size="8" letter-spacing="0.6" textLength="11" lengthAdjust="spacingAndGlyphs">(c)</text>
<text x="141.5" y="240.3" font-size="7.4" letter-spacing="0.9" stroke="#161616" stroke-width="0.2" textLength="33.3" lengthAdjust="spacingAndGlyphs">Input:T3</text>
</g>
<g>
<g filter="url(#bl)">
<path fill="none" stroke="#605858" stroke-width="1.2" stroke-linejoin="round" d="M226.4,179.0C226.7,180.8 227.7,185.8 228.3,189.8C228.9,193.8 229.6,204.4 230.2,203.1C230.8,201.9 231.6,187.7 232.1,182.4C232.6,177.1 232.7,170.7 233.1,171.3C233.5,171.9 234.0,180.9 234.4,185.9C234.8,190.9 235.4,198.3 235.7,201.4C236.0,204.5 235.8,206.7 236.2,204.6C236.6,202.5 237.4,193.0 237.9,188.9C238.5,184.9 239.0,180.8 239.5,180.3C240.0,179.8 240.5,186.7 241.0,186.0C241.6,185.2 242.3,172.9 242.9,176.1C243.6,179.2 244.2,205.2 244.8,204.9C245.4,204.7 246.0,181.3 246.4,174.5C246.9,167.7 247.1,164.1 247.6,164.3C248.1,164.5 248.8,171.1 249.3,175.9C249.9,180.6 250.4,194.2 250.9,192.9C251.5,191.6 251.9,167.8 252.5,168.1C253.1,168.4 253.9,192.9 254.4,194.7C255.0,196.5 255.2,180.1 255.7,178.8C256.3,177.4 257.0,186.0 257.6,186.5C258.3,187.1 258.9,181.4 259.5,181.9C260.2,182.5 260.8,190.0 261.4,189.8C262.1,189.6 262.8,183.7 263.3,180.7C263.9,177.6 264.1,170.0 264.6,171.4C265.2,172.8 265.9,187.0 266.5,188.9C267.2,190.8 267.9,185.4 268.4,182.7C269.0,180.0 269.5,171.4 270.1,172.8C270.6,174.2 271.2,189.2 271.9,191.2C272.5,193.2 273.4,185.4 274.2,185.0C274.9,184.5 275.6,191.8 276.3,188.5C276.9,185.2 277.4,167.2 278.0,165.1C278.5,163.0 278.9,172.8 279.5,175.9C280.0,179.0 280.7,181.7 281.4,183.7C282.0,185.6 282.6,187.9 283.3,187.6C283.9,187.3 284.5,181.7 285.2,181.9C285.8,182.2 286.4,189.8 287.1,189.0C287.7,188.2 288.3,177.2 289.0,177.0C289.6,176.8 290.3,188.7 290.9,188.0C291.4,187.3 292.0,175.2 292.3,172.9C292.6,170.6 292.4,172.6 292.8,174.3C293.2,176.0 294.1,182.8 294.8,183.1C295.4,183.4 296.0,176.0 296.7,175.9C297.3,175.8 297.8,181.0 298.6,182.5C299.3,184.0 300.4,184.2 301.1,184.7C301.8,185.3 302.4,187.3 303.0,185.8C303.6,184.3 304.2,175.7 304.7,175.8C305.2,176.0 305.6,184.0 306.2,186.7C306.8,189.5 307.5,192.6 308.1,192.2C308.7,191.8 309.4,185.1 310.0,184.3C310.6,183.6 311.3,187.9 311.9,187.6C312.5,187.3 313.2,181.6 313.8,182.4C314.4,183.2 315.1,191.7 315.7,192.4C316.3,193.1 317.1,190.0 317.6,186.6C318.1,183.3 318.5,171.8 318.9,172.4C319.3,172.9 319.8,185.1 320.2,190.0C320.6,194.8 321.0,199.1 321.2,201.4C321.5,203.7 321.4,208.1 321.7,203.8C322.0,199.6 322.7,176.5 323.2,175.8C323.7,175.1 324.4,199.0 324.9,199.5C325.4,199.9 325.6,179.6 326.1,178.4C326.6,177.1 327.4,190.1 328.0,192.0C328.7,193.8 329.4,189.5 330.0,189.5C330.7,189.5 331.3,193.4 331.9,192.0C332.6,190.5 333.2,180.3 333.8,180.8C334.5,181.4 335.0,193.1 335.7,195.1C336.5,197.0 337.5,192.7 338.2,192.6C339.0,192.5 339.5,193.9 340.1,194.6C340.8,195.4 341.4,195.9 342.0,197.0C342.7,198.2 343.3,198.9 343.9,201.4C344.5,203.9 345.0,211.1 345.6,212.1C346.3,213.0 347.1,209.5 347.7,207.2C348.4,205.0 349.1,202.2 349.7,198.7C350.4,195.1 351.0,186.9 351.6,185.9C352.3,184.8 352.9,188.4 353.5,192.4C354.2,196.5 354.8,206.7 355.4,210.4C356.1,214.2 356.7,216.2 357.4,215.1C358.0,213.9 358.8,202.3 359.3,203.3C359.7,204.4 359.8,218.1 360.1,221.4C360.3,224.7 360.2,226.3 360.6,223.0C361.0,219.6 361.9,201.4 362.5,201.2C363.0,201.1 363.6,226.4 364.0,222.0C364.3,217.6 364.3,182.7 364.5,174.8C364.6,166.9 364.7,172.7 364.9,174.8C365.0,176.9 365.2,187.3 365.6,187.2C365.9,187.1 366.6,176.4 367.0,174.0C367.4,171.6 367.7,174.8 368.0,172.9C368.2,171.0 368.3,160.5 368.7,162.7C369.0,164.9 369.3,181.9 369.9,186.3C370.4,190.7 371.1,189.7 371.8,189.2C372.4,188.7 373.0,183.6 373.7,183.1C374.3,182.7 374.9,186.9 375.6,186.4C376.2,185.9 376.8,179.6 377.5,180.0C378.1,180.4 378.7,185.3 379.4,188.9C380.0,192.5 380.6,201.9 381.3,201.5C381.9,201.0 382.5,188.1 383.2,186.2C383.8,184.4 384.4,190.0 385.1,190.3C385.7,190.6 386.4,189.2 387.0,188.1C387.6,186.9 388.4,185.2 388.9,183.3C389.4,181.4 389.7,171.4 390.2,176.5C390.6,181.7 391.3,210.0 391.6,214.2C391.9,218.4 391.7,203.3 392.1,201.9C392.5,200.5 393.4,203.5 394.0,205.8C394.6,208.1 395.3,216.0 395.9,215.5C396.5,215.0 397.3,206.1 397.8,202.8C398.3,199.6 398.7,197.1 398.9,196.0"/>
<path fill="none" stroke="#22b5e8" stroke-width="1.75" stroke-linejoin="round" d="M225.9,181.2C226.2,182.5 227.2,186.1 227.8,188.8C228.4,191.6 229.1,198.5 229.7,197.7C230.3,196.8 231.1,187.2 231.6,183.7C232.1,180.2 232.2,176.3 232.6,176.7C233.0,177.1 233.4,182.5 233.9,186.2C234.4,189.9 235.1,198.6 235.7,199.0C236.3,199.4 236.9,191.6 237.4,188.8C238.0,186.0 238.5,182.8 239.0,182.4C239.5,182.0 239.9,186.8 240.5,186.2C241.1,185.6 241.8,176.7 242.4,178.6C243.1,180.5 243.7,198.1 244.3,197.7C244.9,197.3 245.5,180.8 245.9,176.1C246.4,171.4 246.6,169.7 247.1,169.7C247.6,169.7 248.3,172.9 248.8,176.1C249.4,179.3 249.9,189.4 250.4,188.8C251.0,188.2 251.4,171.9 252.0,172.3C252.6,172.7 253.4,190.0 253.9,191.3C254.5,192.6 254.7,180.7 255.2,179.9C255.8,179.0 256.5,185.8 257.1,186.2C257.8,186.6 258.4,182.2 259.0,182.4C259.7,182.6 260.3,187.7 260.9,187.5C261.6,187.3 262.3,183.3 262.8,181.2C263.4,179.1 263.6,174.0 264.1,174.8C264.7,175.6 265.4,184.9 266.0,186.2C266.7,187.5 267.4,184.1 267.9,182.4C268.5,180.7 269.0,175.0 269.6,176.1C270.1,177.2 270.7,187.5 271.4,188.8C272.0,190.1 272.9,184.1 273.7,183.7C274.4,183.3 275.1,188.5 275.8,186.2C276.4,183.9 276.9,171.2 277.5,169.7C278.0,168.2 278.4,175.2 279.0,177.3C279.5,179.4 280.2,180.9 280.9,182.4C281.5,183.9 282.1,186.2 282.8,186.2C283.4,186.2 284.0,182.2 284.7,182.4C285.3,182.6 285.9,188.1 286.6,187.5C287.2,186.9 287.8,178.8 288.5,178.6C289.1,178.4 289.7,186.6 290.4,186.2C291.0,185.8 291.6,176.7 292.3,176.1C292.9,175.5 293.6,182.2 294.3,182.4C294.9,182.6 295.5,177.3 296.2,177.3C296.8,177.3 297.3,181.3 298.1,182.4C298.8,183.5 299.9,183.3 300.6,183.7C301.3,184.1 301.9,185.8 302.5,185.0C303.1,184.2 303.7,178.4 304.2,178.6C304.7,178.8 305.1,184.3 305.7,186.2C306.3,188.1 307.0,190.3 307.6,190.1C308.2,189.9 308.9,185.4 309.5,185.0C310.1,184.6 310.8,187.7 311.4,187.5C312.0,187.3 312.7,183.3 313.3,183.7C313.9,184.1 314.6,189.7 315.2,190.1C315.8,190.5 316.6,188.3 317.1,186.2C317.6,184.1 318.0,176.9 318.4,177.3C318.8,177.7 319.2,185.2 319.7,188.8C320.2,192.4 320.7,200.5 321.2,199.0C321.7,197.5 322.2,180.3 322.7,179.9C323.2,179.5 323.9,196.2 324.4,196.4C324.9,196.6 325.1,182.1 325.6,181.2C326.1,180.4 326.9,190.0 327.5,191.3C328.2,192.6 328.9,188.8 329.5,188.8C330.2,188.8 330.8,192.2 331.4,191.3C332.1,190.5 332.7,183.3 333.3,183.7C334.0,184.1 334.5,192.4 335.2,193.9C336.0,195.4 337.0,192.4 337.7,192.6C338.5,192.8 339.0,194.3 339.6,195.1C340.3,196.0 340.9,196.6 341.5,197.7C342.2,198.8 342.8,199.6 343.4,201.5C344.0,203.4 344.5,208.5 345.1,209.1C345.8,209.7 346.6,207.0 347.2,205.3C347.9,203.6 348.6,201.5 349.2,199.0C349.9,196.5 350.5,190.8 351.1,190.1C351.8,189.5 352.4,192.1 353.0,195.1C353.7,198.1 354.3,204.9 354.9,207.9C355.6,210.9 356.2,213.3 356.9,212.9C357.5,212.5 358.2,204.2 358.8,205.3C359.3,206.4 359.5,219.7 360.1,219.3C360.6,218.9 361.4,203.4 362.0,202.8C362.5,202.2 362.9,217.8 363.5,215.5C364.0,213.2 364.6,195.0 365.1,188.8C365.6,182.7 366.1,180.7 366.5,178.6C366.9,176.5 367.0,175.0 367.5,176.1C367.9,177.2 368.7,183.1 369.4,185.0C370.0,186.9 370.6,187.7 371.3,187.5C371.9,187.3 372.5,183.9 373.2,183.7C373.8,183.5 374.4,186.4 375.1,186.2C375.7,186.0 376.3,182.0 377.0,182.4C377.6,182.8 378.2,186.2 378.9,188.8C379.5,191.4 380.1,197.9 380.8,197.7C381.4,197.5 382.0,188.8 382.7,187.5C383.3,186.2 383.9,190.1 384.6,190.1C385.2,190.1 385.9,188.3 386.5,187.5C387.1,186.7 387.9,186.1 388.4,185.0C388.9,183.9 389.2,178.7 389.7,181.2C390.2,183.7 391.0,196.4 391.6,200.2C392.2,204.0 392.9,202.1 393.5,204.0C394.1,205.9 394.8,211.9 395.4,211.7C396.0,211.5 396.7,205.1 397.3,202.8C397.9,200.5 398.6,198.5 398.9,197.7"/>
</g>
<rect x="225.9" y="143.0" width="173.0" height="107.4" fill="none" stroke="#4a4a4a" stroke-width="1.3"/>
<line x1="223.1" y1="144.4" x2="225.9" y2="144.4" stroke="#4a4a4a" stroke-width="1.2"/>
<text x="222.0" y="147.1" font-size="7.7" letter-spacing="0.4" text-anchor="end" stroke="#161616" stroke-width="0.3">12</text>
<line x1="223.1" y1="179.7" x2="225.9" y2="179.7" stroke="#4a4a4a" stroke-width="1.2"/>
<text x="222.0" y="182.4" font-size="7.7" letter-spacing="0.4" text-anchor="end" stroke="#161616" stroke-width="0.3">9</text>
<line x1="223.1" y1="215.1" x2="225.9" y2="215.1" stroke="#4a4a4a" stroke-width="1.2"/>
<text x="222.0" y="217.8" font-size="7.7" letter-spacing="0.4" text-anchor="end" stroke="#161616" stroke-width="0.3">6</text>
<line x1="223.1" y1="250.4" x2="225.9" y2="250.4" stroke="#4a4a4a" stroke-width="1.2"/>
<text x="222.0" y="253.1" font-size="7.7" letter-spacing="0.4" text-anchor="end" stroke="#161616" stroke-width="0.3">3</text>
<line x1="225.9" y1="250.4" x2="225.9" y2="253.0" stroke="#4a4a4a" stroke-width="1.2"/>
<text x="226.8" y="262.4" font-size="8.0" letter-spacing="0.35" text-anchor="middle" stroke="#161616" stroke-width="0.3">1</text>
<line x1="282.9" y1="250.4" x2="282.9" y2="253.0" stroke="#4a4a4a" stroke-width="1.2"/>
<text x="283.3" y="262.4" font-size="8.0" letter-spacing="0.35" text-anchor="middle" stroke="#161616" stroke-width="0.3">60</text>
<line x1="340.9" y1="250.4" x2="340.9" y2="253.0" stroke="#4a4a4a" stroke-width="1.2"/>
<text x="341.1" y="262.4" font-size="8.0" letter-spacing="0.35" text-anchor="middle" stroke="#161616" stroke-width="0.3">120</text>
<line x1="398.9" y1="250.4" x2="398.9" y2="253.0" stroke="#4a4a4a" stroke-width="1.2"/>
<text x="397.8" y="262.4" font-size="8.0" letter-spacing="0.35" text-anchor="middle" stroke="#161616" stroke-width="0.3">180</text>
<text x="278.5" y="271.6" font-size="10.3" letter-spacing="0.2" stroke="#161616" stroke-width="0.2" textLength="70.5" lengthAdjust="spacingAndGlyphs">Test area series</text>
<text transform="translate(214.3,225.8) rotate(-90)" font-size="9.4" letter-spacing="0.8" textLength="58.5" lengthAdjust="spacingAndGlyphs">Yield(t·ha<tspan font-size="5.2" dy="-4.4" letter-spacing="0.3">−1</tspan><tspan dy="4.4">)</tspan></text>
<text x="228.8" y="151.6" font-size="8" letter-spacing="0.6" textLength="11" lengthAdjust="spacingAndGlyphs">(d)</text>
<text x="342.2" y="240.3" font-size="7.4" letter-spacing="0.9" stroke="#161616" stroke-width="0.2" textLength="48.1" lengthAdjust="spacingAndGlyphs">Input:T1+T2</text>
</g>
<g>
<g filter="url(#bl)">
<path fill="none" stroke="#605858" stroke-width="1.2" stroke-linejoin="round" d="M26.4,313.3C26.7,315.2 27.9,320.8 28.3,324.5C28.7,328.2 28.7,334.1 29.0,335.8C29.3,337.5 29.7,334.3 30.2,334.8C30.7,335.3 31.4,341.1 31.9,338.8C32.4,336.5 32.9,326.3 33.4,321.1C33.9,315.9 34.4,304.2 34.9,307.6C35.4,311.1 36.0,340.2 36.6,341.7C37.2,343.3 37.7,320.1 38.2,317.1C38.7,314.1 39.2,320.9 39.8,323.9C40.3,327.0 41.2,333.6 41.5,335.3C41.8,337.0 41.4,336.5 41.7,334.0C42.1,331.4 43.0,325.3 43.6,320.0C44.2,314.6 44.6,303.6 45.1,301.7C45.6,299.8 46.4,307.6 46.8,308.6C47.2,309.5 47.2,304.3 47.5,307.3C47.8,310.3 48.2,325.9 48.7,326.9C49.2,327.8 50.0,314.1 50.6,313.1C51.2,312.2 51.7,321.0 52.2,321.2C52.7,321.3 53.2,313.3 53.7,314.1C54.2,315.0 54.5,325.3 55.0,326.2C55.5,327.1 56.3,320.0 56.9,319.6C57.5,319.3 58.3,326.2 58.8,324.2C59.3,322.2 59.6,307.1 60.1,307.8C60.6,308.5 61.4,325.5 62.0,328.3C62.6,331.1 63.3,326.7 63.9,324.6C64.5,322.4 65.2,315.4 65.8,315.3C66.4,315.2 67.2,325.2 67.7,324.2C68.2,323.2 68.5,308.2 69.0,309.3C69.5,310.5 70.0,328.0 70.5,331.2C71.0,334.4 71.3,330.6 71.8,328.6C72.3,326.5 73.0,322.4 73.7,319.0C74.4,315.7 75.5,309.4 76.2,308.6C76.9,307.8 77.5,311.7 78.1,314.2C78.7,316.7 79.4,321.6 80.0,323.7C80.6,325.9 81.2,328.4 81.9,327.0C82.6,325.6 83.3,317.5 83.9,315.4C84.5,313.3 85.2,313.0 85.8,314.4C86.4,315.9 87.1,324.9 87.7,324.1C88.3,323.2 89.0,309.7 89.6,309.4C90.2,309.1 90.9,321.6 91.5,322.5C92.1,323.5 92.8,317.1 93.4,315.1C94.0,313.2 94.7,309.5 95.3,310.9C95.9,312.4 96.6,322.7 97.2,324.0C97.8,325.2 98.5,319.3 99.1,318.4C99.7,317.6 100.4,319.9 101.0,319.0C101.6,318.2 102.3,312.1 102.9,313.5C103.5,315.0 104.0,326.5 104.6,327.9C105.2,329.3 105.7,322.8 106.4,321.9C107.1,321.0 107.8,322.1 108.6,322.5C109.4,322.9 110.3,323.0 111.2,324.3C112.1,325.6 113.0,329.6 113.7,330.2C114.4,330.9 115.0,331.1 115.6,328.1C116.2,325.2 116.8,312.8 117.5,312.7C118.2,312.5 119.0,323.7 119.5,327.3C120.0,331.0 119.8,333.9 120.3,334.5C120.7,335.1 121.6,331.8 122.2,330.9C122.8,329.9 123.3,331.9 124.1,328.9C124.8,325.9 126.0,312.5 126.7,312.8C127.5,313.1 128.0,327.8 128.6,330.5C129.2,333.1 129.8,331.6 130.5,328.6C131.2,325.6 132.3,312.1 133.0,312.4C133.7,312.7 134.3,326.9 134.9,330.4C135.5,333.9 136.1,332.9 136.8,333.2C137.6,333.6 138.7,332.3 139.4,332.6C140.2,332.9 140.7,332.7 141.3,335.2C141.9,337.7 142.6,346.2 143.2,347.8C143.8,349.3 144.5,346.7 145.1,344.7C145.7,342.7 146.4,339.8 147.0,335.8C147.6,331.8 148.3,321.5 148.9,320.8C149.5,320.0 150.2,326.1 150.8,331.1C151.4,336.1 152.1,347.1 152.7,350.8C153.2,354.6 153.8,353.4 154.1,353.8C154.4,354.2 154.3,355.3 154.6,353.1C154.9,350.9 155.4,342.9 155.9,340.5C156.4,338.1 157.0,336.0 157.4,338.6C157.8,341.2 158.3,353.6 158.6,356.3C158.9,359.0 158.7,355.6 159.1,355.0C159.5,354.4 160.4,356.3 161.0,352.6C161.6,348.8 162.3,341.2 162.9,332.3C163.5,323.4 164.0,301.4 164.5,299.0C165.0,296.6 165.5,317.8 165.8,317.8C166.1,317.8 166.1,295.5 166.3,299.1C166.5,302.7 166.7,335.5 167.0,339.2C167.3,343.0 167.8,325.2 168.3,321.4C168.8,317.7 169.6,316.8 170.2,317.0C170.8,317.1 171.5,320.2 172.1,322.2C172.7,324.3 173.4,330.7 174.0,329.4C174.6,328.2 175.3,315.3 175.9,314.7C176.5,314.2 177.2,327.5 177.8,326.0C178.4,324.4 178.9,306.8 179.2,305.4C179.5,304.0 179.3,315.2 179.7,317.3C180.1,319.4 181.0,317.2 181.7,317.9C182.3,318.6 183.0,319.2 183.6,321.4C184.2,323.7 184.9,330.6 185.5,331.4C186.1,332.3 186.8,327.2 187.4,326.7C188.0,326.1 188.7,327.5 189.3,328.2C189.9,329.0 190.6,327.4 191.2,331.0C191.8,334.7 192.3,347.5 192.6,350.3C192.9,353.1 192.8,350.1 193.1,347.8C193.4,345.5 193.9,336.6 194.4,336.7C194.9,336.7 196.0,345.2 196.3,348.1C196.7,351.1 196.2,353.7 196.5,354.3C196.8,354.9 197.6,352.4 197.8,351.4C198.1,350.4 198.0,348.8 198.0,348.2"/>
<path fill="none" stroke="#22b5e8" stroke-width="1.75" stroke-linejoin="round" d="M25.9,315.6C26.2,317.1 27.2,321.8 27.8,324.5C28.4,327.2 29.1,330.4 29.7,332.1C30.3,333.8 30.9,336.2 31.4,334.7C31.9,333.2 32.4,326.8 32.9,323.2C33.4,319.6 33.9,311.0 34.4,313.1C34.9,315.2 35.5,334.9 36.1,336.0C36.7,337.1 37.2,321.3 37.7,319.4C38.2,317.5 38.7,322.8 39.3,324.5C39.9,326.2 40.6,330.5 41.2,329.6C41.8,328.8 42.5,323.2 43.1,319.4C43.7,315.6 44.1,308.2 44.6,306.7C45.1,305.2 45.7,307.8 46.3,310.5C46.9,313.2 47.6,322.6 48.2,323.2C48.8,323.8 49.5,314.7 50.1,314.3C50.7,313.9 51.2,320.5 51.7,320.7C52.2,320.9 52.7,315.0 53.2,315.6C53.7,316.2 54.0,323.9 54.5,324.5C55.0,325.1 55.8,319.6 56.4,319.4C57.0,319.2 57.8,324.5 58.3,323.2C58.8,321.9 59.1,311.4 59.6,311.8C60.1,312.2 60.9,323.9 61.5,325.8C62.1,327.7 62.8,324.7 63.4,323.2C64.0,321.7 64.7,316.9 65.3,316.9C65.9,316.9 66.7,323.8 67.2,323.2C67.7,322.6 68.0,312.2 68.5,313.1C69.0,314.0 69.5,326.2 70.0,328.3C70.5,330.4 70.8,327.3 71.3,325.8C71.8,324.3 72.5,321.7 73.2,319.4C73.9,317.1 75.0,312.4 75.7,311.8C76.4,311.2 77.0,313.9 77.6,315.6C78.2,317.3 78.9,320.5 79.5,322.0C80.1,323.5 80.7,325.4 81.4,324.5C82.0,323.6 82.7,318.4 83.4,316.9C84.0,315.4 84.7,314.8 85.3,315.6C85.9,316.5 86.6,322.6 87.2,322.0C87.8,321.4 88.5,312.0 89.1,311.8C89.7,311.6 90.4,320.1 91.0,320.7C91.6,321.3 92.3,316.9 92.9,315.6C93.5,314.3 94.2,312.0 94.8,313.1C95.4,314.2 96.1,321.1 96.7,322.0C97.3,322.9 98.0,318.6 98.6,318.2C99.2,317.8 99.9,319.8 100.5,319.4C101.1,319.0 101.8,314.5 102.4,315.6C103.0,316.7 103.5,324.7 104.1,325.8C104.7,326.9 105.2,322.4 105.9,322.0C106.6,321.6 107.3,322.8 108.1,323.2C108.9,323.6 109.8,323.6 110.7,324.5C111.6,325.4 112.5,327.9 113.2,328.3C113.9,328.7 114.5,329.0 115.1,327.1C115.7,325.2 116.4,316.9 117.0,316.9C117.7,316.9 118.5,324.6 119.0,327.1C119.5,329.6 119.3,331.7 119.8,332.1C120.2,332.5 121.1,330.2 121.7,329.6C122.3,329.0 122.8,330.4 123.6,328.3C124.3,326.2 125.5,316.9 126.2,316.9C127.0,316.9 127.5,326.6 128.1,328.3C128.7,330.0 129.3,329.0 130.0,327.1C130.7,325.2 131.8,316.5 132.5,316.9C133.2,317.3 133.8,327.1 134.4,329.6C135.0,332.1 135.5,331.5 136.3,332.1C137.0,332.7 138.2,332.8 138.9,333.4C139.7,334.1 140.2,334.1 140.8,336.0C141.4,337.9 142.1,343.9 142.7,344.9C143.3,346.0 144.0,343.8 144.6,342.3C145.2,340.8 145.9,338.8 146.5,336.0C147.1,333.2 147.8,326.2 148.4,325.8C149.0,325.4 149.7,329.8 150.3,333.4C150.9,337.0 151.6,344.6 152.2,347.4C152.8,350.1 153.6,350.8 154.1,349.9C154.6,349.0 154.9,343.8 155.4,342.3C155.9,340.8 156.4,339.5 156.9,341.0C157.4,342.5 158.0,350.1 158.6,351.2C159.2,352.3 159.9,350.6 160.5,347.4C161.1,344.2 161.8,338.7 162.4,332.1C163.0,325.5 163.5,310.1 164.0,308.0C164.5,305.9 164.9,315.2 165.3,319.4C165.7,323.6 166.1,333.0 166.5,333.4C166.9,333.8 167.3,324.3 167.8,322.0C168.3,319.7 169.1,319.4 169.7,319.4C170.3,319.4 171.0,320.7 171.6,322.0C172.2,323.3 172.9,328.0 173.5,327.1C174.1,326.2 174.8,317.3 175.4,316.9C176.0,316.5 176.7,324.3 177.3,324.5C177.9,324.7 178.5,319.1 179.2,318.2C179.8,317.3 180.5,318.8 181.2,319.4C181.8,320.0 182.5,320.3 183.1,322.0C183.7,323.7 184.4,328.8 185.0,329.6C185.6,330.5 186.3,327.1 186.9,327.1C187.5,327.1 188.2,328.8 188.8,329.6C189.4,330.4 190.1,329.6 190.7,332.1C191.3,334.7 192.1,343.8 192.6,344.9C193.1,346.0 193.4,338.1 193.9,338.5C194.4,338.9 195.2,345.5 195.8,347.4C196.4,349.3 196.9,349.8 197.3,349.9C197.7,350.0 197.9,348.6 198.0,348.3"/>
</g>
<rect x="25.2" y="279.7" width="172.8" height="107.6" fill="none" stroke="#4a4a4a" stroke-width="1.3"/>
<line x1="22.4" y1="281.3" x2="25.2" y2="281.3" stroke="#4a4a4a" stroke-width="1.2"/>
<text x="21.3" y="284.0" font-size="7.7" letter-spacing="0.4" text-anchor="end" stroke="#161616" stroke-width="0.3">12</text>
<line x1="22.4" y1="316.6" x2="25.2" y2="316.6" stroke="#4a4a4a" stroke-width="1.2"/>
<text x="21.3" y="319.3" font-size="7.7" letter-spacing="0.4" text-anchor="end" stroke="#161616" stroke-width="0.3">9</text>
<line x1="22.4" y1="352.0" x2="25.2" y2="352.0" stroke="#4a4a4a" stroke-width="1.2"/>
<text x="21.3" y="354.7" font-size="7.7" letter-spacing="0.4" text-anchor="end" stroke="#161616" stroke-width="0.3">6</text>
<line x1="22.4" y1="387.3" x2="25.2" y2="387.3" stroke="#4a4a4a" stroke-width="1.2"/>
<text x="21.3" y="390.0" font-size="7.7" letter-spacing="0.4" text-anchor="end" stroke="#161616" stroke-width="0.3">3</text>
<line x1="25.2" y1="387.3" x2="25.2" y2="389.9" stroke="#4a4a4a" stroke-width="1.2"/>
<text x="26.1" y="399.3" font-size="8.0" letter-spacing="0.35" text-anchor="middle" stroke="#161616" stroke-width="0.3">1</text>
<line x1="82.2" y1="387.3" x2="82.2" y2="389.9" stroke="#4a4a4a" stroke-width="1.2"/>
<text x="82.6" y="399.3" font-size="8.0" letter-spacing="0.35" text-anchor="middle" stroke="#161616" stroke-width="0.3">60</text>
<line x1="140.1" y1="387.3" x2="140.1" y2="389.9" stroke="#4a4a4a" stroke-width="1.2"/>
<text x="140.3" y="399.3" font-size="8.0" letter-spacing="0.35" text-anchor="middle" stroke="#161616" stroke-width="0.3">120</text>
<line x1="198.0" y1="387.3" x2="198.0" y2="389.9" stroke="#4a4a4a" stroke-width="1.2"/>
<text x="196.9" y="399.3" font-size="8.0" letter-spacing="0.35" text-anchor="middle" stroke="#161616" stroke-width="0.3">180</text>
<text x="77.8" y="408.5" font-size="10.3" letter-spacing="0.2" stroke="#161616" stroke-width="0.2" textLength="70.5" lengthAdjust="spacingAndGlyphs">Test area series</text>
<text transform="translate(13.6,362.7) rotate(-90)" font-size="9.4" letter-spacing="0.8" textLength="58.5" lengthAdjust="spacingAndGlyphs">Yield(t·ha<tspan font-size="5.2" dy="-4.4" letter-spacing="0.3">−1</tspan><tspan dy="4.4">)</tspan></text>
<text x="28.1" y="288.3" font-size="8" letter-spacing="0.6" textLength="11" lengthAdjust="spacingAndGlyphs">(e)</text>
<text x="141.5" y="377.2" font-size="7.4" letter-spacing="0.9" stroke="#161616" stroke-width="0.2" textLength="48.6" lengthAdjust="spacingAndGlyphs">Input:T1+T3</text>
</g>
<g>
<g filter="url(#bl)">
<path fill="none" stroke="#605858" stroke-width="1.2" stroke-linejoin="round" d="M226.4,310.7C226.7,312.6 227.7,318.0 228.3,321.9C228.9,325.8 229.7,331.7 230.2,334.0C230.7,336.3 231.1,335.5 231.4,335.8C231.7,336.1 231.6,338.0 231.9,335.7C232.2,333.5 232.6,326.5 233.1,322.2C233.6,318.0 234.3,314.2 234.7,310.4C235.1,306.5 235.5,299.8 235.7,299.1C236.0,298.4 236.0,302.4 236.2,305.9C236.5,309.3 236.8,317.2 237.2,319.7C237.6,322.3 238.1,318.3 238.5,321.0C238.9,323.8 239.3,334.0 239.5,336.3C239.8,338.6 239.6,337.8 240.0,334.6C240.4,331.3 241.1,318.7 241.7,316.8C242.3,314.8 243.1,319.7 243.6,322.8C244.2,326.0 244.7,333.3 245.0,335.8C245.3,338.3 245.2,341.7 245.5,337.8C245.9,333.9 246.7,317.5 247.1,312.2C247.6,306.9 248.0,307.7 248.2,306.1C248.5,304.5 248.4,301.0 248.7,302.9C249.0,304.7 249.4,312.7 249.9,317.0C250.4,321.4 251.2,329.0 251.8,329.0C252.5,329.0 253.1,317.6 253.7,317.1C254.4,316.5 255.1,325.6 255.7,325.6C256.4,325.6 257.0,317.4 257.6,317.1C258.3,316.8 258.9,323.7 259.5,323.9C260.2,324.1 260.8,318.3 261.4,318.2C262.1,318.2 262.7,322.0 263.3,323.7C264.0,325.3 264.6,328.8 265.2,328.0C265.9,327.2 266.5,320.7 267.1,318.7C267.8,316.7 268.4,315.7 269.0,315.9C269.7,316.0 270.4,320.2 271.0,319.5C271.5,318.9 271.7,310.4 272.3,312.0C272.8,313.6 273.6,327.5 274.2,329.2C274.7,331.0 275.1,326.3 275.7,322.3C276.2,318.3 277.0,308.0 277.5,305.4C277.9,302.8 277.7,305.7 278.2,306.9C278.6,308.2 279.4,310.2 280.1,312.8C280.7,315.4 281.3,320.7 282.0,322.4C282.6,324.2 283.3,324.5 284.0,323.3C284.6,322.1 285.2,315.1 285.9,315.2C286.5,315.2 287.1,322.1 287.8,323.5C288.4,324.9 289.0,326.4 289.7,323.7C290.3,321.0 290.9,307.8 291.6,307.3C292.2,306.8 292.7,319.5 293.5,320.5C294.2,321.6 295.1,314.0 296.0,313.6C296.8,313.2 297.8,317.7 298.6,318.2C299.3,318.7 299.9,315.6 300.5,316.4C301.1,317.3 301.8,323.3 302.4,323.4C303.0,323.5 303.7,318.0 304.3,317.2C304.9,316.4 305.6,316.8 306.2,318.5C306.8,320.2 307.5,326.9 308.1,327.4C308.7,327.9 309.4,321.6 310.0,321.4C310.6,321.3 311.3,326.1 311.9,326.3C312.5,326.4 313.2,322.1 313.8,322.3C314.4,322.5 315.1,326.3 315.7,327.5C316.3,328.6 317.1,329.1 317.6,329.2C318.1,329.3 318.1,328.5 318.5,328.0C318.9,327.6 319.6,329.0 320.2,326.5C320.8,324.0 321.3,314.0 321.9,313.2C322.5,312.5 323.0,318.4 323.6,322.2C324.2,325.9 324.8,334.4 325.3,335.9C325.8,337.3 326.2,334.8 326.8,331.0C327.4,327.2 328.1,312.6 328.7,313.1C329.3,313.6 329.8,333.8 330.3,333.9C330.9,334.0 331.4,314.6 331.9,313.7C332.4,312.8 332.8,325.6 333.4,328.4C334.0,331.1 334.8,332.7 335.4,330.3C336.1,328.0 336.6,314.7 337.2,314.4C337.8,314.2 338.3,325.8 338.9,328.6C339.5,331.5 340.2,331.3 340.8,331.7C341.5,332.1 342.1,330.4 342.7,331.0C343.4,331.7 344.0,332.6 344.6,335.6C345.3,338.6 345.9,347.7 346.5,349.0C347.2,350.3 347.8,348.5 348.4,343.4C349.1,338.2 349.7,320.5 350.3,318.1C351.0,315.7 351.7,323.0 352.2,329.0C352.8,335.0 353.3,349.9 353.6,354.3C354.0,358.7 353.8,356.9 354.1,355.5C354.5,354.2 355.4,346.0 355.9,346.1C356.3,346.2 356.7,354.7 357.0,356.3C357.2,357.9 357.1,356.9 357.5,355.4C357.8,353.9 358.5,347.0 359.1,347.2C359.6,347.3 360.3,357.3 361.0,356.4C361.6,355.5 362.2,347.3 362.9,341.9C363.5,336.5 364.2,330.3 364.8,324.1C365.3,317.9 365.5,305.3 366.0,304.7C366.4,304.0 367.1,316.9 367.7,320.2C368.2,323.5 368.7,326.8 369.2,324.6C369.6,322.5 370.3,310.1 370.6,307.3C370.9,304.5 370.7,305.9 371.1,307.7C371.4,309.6 372.2,317.9 372.8,318.6C373.4,319.2 374.0,310.3 374.6,311.4C375.1,312.5 375.6,323.7 376.2,325.0C376.8,326.3 377.4,319.8 378.1,319.2C378.7,318.5 379.3,321.0 380.0,321.3C380.6,321.6 381.3,318.1 381.9,321.0C382.4,323.8 383.0,336.3 383.3,338.3C383.6,340.3 383.4,335.2 383.8,333.0C384.2,330.8 385.1,326.1 385.8,325.2C386.4,324.2 387.1,322.9 387.7,327.3C388.2,331.7 388.8,347.1 389.1,351.3C389.4,355.5 389.2,354.9 389.6,352.7C390.0,350.4 390.9,341.3 391.5,337.9C392.1,334.6 392.6,330.6 393.1,332.6C393.6,334.6 394.1,346.7 394.7,349.8C395.3,352.9 396.1,350.6 396.6,351.2C397.1,351.7 397.4,355.6 397.7,353.3C398.0,351.0 398.0,339.0 398.2,337.5C398.4,336.0 398.8,343.2 398.9,344.3"/>
<path fill="none" stroke="#22b5e8" stroke-width="1.75" stroke-linejoin="round" d="M225.9,313.1C226.2,314.6 227.2,319.0 227.8,322.0C228.4,325.0 229.1,329.2 229.7,330.9C230.3,332.6 230.9,333.6 231.4,332.1C231.9,330.6 232.1,325.2 232.6,322.0C233.1,318.8 233.7,315.2 234.2,313.1C234.7,311.0 235.3,308.2 235.7,309.3C236.1,310.4 236.3,317.5 236.7,319.4C237.1,321.3 237.5,318.8 238.0,320.7C238.5,322.6 239.0,331.1 239.5,330.9C240.0,330.7 240.6,320.7 241.2,319.4C241.8,318.1 242.5,321.1 243.1,323.2C243.8,325.3 244.4,333.6 245.0,332.1C245.6,330.6 246.1,318.3 246.6,314.3C247.2,310.3 247.8,307.6 248.2,308.0C248.7,308.4 248.9,313.9 249.4,316.9C249.9,319.9 250.7,325.6 251.3,325.8C252.0,326.0 252.6,318.4 253.2,318.2C253.9,318.0 254.6,324.5 255.2,324.5C255.9,324.5 256.5,318.4 257.1,318.2C257.8,318.0 258.4,323.0 259.0,323.2C259.7,323.4 260.3,319.4 260.9,319.4C261.6,319.4 262.2,322.1 262.8,323.2C263.5,324.3 264.1,326.4 264.7,325.8C265.4,325.2 266.0,320.9 266.6,319.4C267.3,317.9 267.9,316.9 268.5,316.9C269.2,316.9 269.9,319.8 270.5,319.4C271.0,319.0 271.2,313.2 271.8,314.3C272.3,315.4 273.1,324.7 273.7,325.8C274.2,326.9 274.5,323.2 275.2,320.7C275.8,318.1 276.9,311.6 277.7,310.5C278.4,309.4 278.9,312.6 279.6,314.3C280.2,316.0 280.8,319.4 281.5,320.7C282.1,322.0 282.8,322.6 283.5,322.0C284.1,321.4 284.7,316.9 285.4,316.9C286.0,316.9 286.6,321.1 287.3,322.0C287.9,322.9 288.5,323.9 289.2,322.0C289.8,320.1 290.4,310.9 291.1,310.5C291.7,310.1 292.2,318.8 293.0,319.4C293.7,320.0 294.6,314.5 295.5,314.3C296.3,314.1 297.3,317.8 298.1,318.2C298.8,318.6 299.4,316.3 300.0,316.9C300.6,317.5 301.3,321.8 301.9,322.0C302.5,322.2 303.2,318.6 303.8,318.2C304.4,317.8 305.1,318.1 305.7,319.4C306.3,320.7 307.0,325.4 307.6,325.8C308.2,326.2 308.9,322.0 309.5,322.0C310.1,322.0 310.8,325.6 311.4,325.8C312.0,326.0 312.7,323.0 313.3,323.2C313.9,323.4 314.6,326.2 315.2,327.1C315.8,328.0 316.6,328.3 317.1,328.3C317.6,328.3 317.6,327.5 318.0,327.1C318.4,326.7 319.1,327.5 319.7,325.8C320.3,324.1 320.8,317.3 321.4,316.9C322.0,316.5 322.5,320.7 323.1,323.2C323.7,325.7 324.3,331.0 324.8,332.1C325.3,333.2 325.7,332.1 326.3,329.6C326.9,327.1 327.6,316.7 328.2,316.9C328.8,317.1 329.3,330.9 329.8,330.9C330.4,330.9 330.9,317.5 331.4,316.9C331.9,316.3 332.3,325.2 332.9,327.1C333.5,329.0 334.3,329.8 334.9,328.3C335.6,326.8 336.1,318.2 336.7,318.2C337.3,318.2 337.8,326.2 338.4,328.3C339.0,330.4 339.7,330.3 340.3,330.9C341.0,331.5 341.6,331.2 342.2,332.1C342.9,333.0 343.5,333.9 344.1,336.0C344.8,338.1 345.4,344.1 346.0,344.9C346.7,345.7 347.3,344.4 347.9,341.0C348.6,337.6 349.2,326.0 349.8,324.5C350.5,323.0 351.1,327.7 351.7,332.1C352.4,336.6 353.0,348.9 353.6,351.2C354.2,353.5 354.8,345.7 355.3,346.1C355.9,346.5 356.4,353.6 357.0,353.8C357.5,354.0 358.0,347.6 358.6,347.4C359.1,347.2 359.8,353.8 360.5,352.5C361.1,351.2 361.7,344.2 362.4,339.8C363.0,335.4 363.7,330.7 364.3,325.8C364.8,320.9 365.0,311.6 365.5,310.5C365.9,309.4 366.6,317.5 367.2,319.4C367.7,321.3 368.1,323.5 368.7,322.0C369.2,320.5 370.0,311.1 370.6,310.5C371.2,309.9 371.7,317.8 372.3,318.2C372.9,318.6 373.5,312.3 374.1,313.1C374.6,313.9 375.1,322.1 375.7,323.2C376.3,324.2 376.9,319.6 377.6,319.4C378.2,319.2 378.8,321.6 379.5,322.0C380.1,322.4 380.7,320.5 381.4,322.0C382.0,323.5 382.6,330.1 383.3,330.9C383.9,331.8 384.6,327.3 385.3,327.1C385.9,326.9 386.6,326.2 387.2,329.6C387.8,333.0 388.5,345.9 389.1,347.4C389.7,348.9 390.4,340.4 391.0,338.5C391.6,336.6 392.1,334.5 392.6,336.0C393.1,337.5 393.6,345.3 394.2,347.4C394.8,349.5 395.5,350.0 396.1,348.7C396.7,347.4 397.2,340.5 397.7,339.8C398.2,339.1 398.7,343.6 398.9,344.3"/>
</g>
<rect x="225.9" y="279.7" width="173.0" height="107.6" fill="none" stroke="#4a4a4a" stroke-width="1.3"/>
<line x1="223.1" y1="281.3" x2="225.9" y2="281.3" stroke="#4a4a4a" stroke-width="1.2"/>
<text x="222.0" y="284.0" font-size="7.7" letter-spacing="0.4" text-anchor="end" stroke="#161616" stroke-width="0.3">12</text>
<line x1="223.1" y1="316.6" x2="225.9" y2="316.6" stroke="#4a4a4a" stroke-width="1.2"/>
<text x="222.0" y="319.3" font-size="7.7" letter-spacing="0.4" text-anchor="end" stroke="#161616" stroke-width="0.3">9</text>
<line x1="223.1" y1="352.0" x2="225.9" y2="352.0" stroke="#4a4a4a" stroke-width="1.2"/>
<text x="222.0" y="354.7" font-size="7.7" letter-spacing="0.4" text-anchor="end" stroke="#161616" stroke-width="0.3">6</text>
<line x1="223.1" y1="387.3" x2="225.9" y2="387.3" stroke="#4a4a4a" stroke-width="1.2"/>
<text x="222.0" y="390.0" font-size="7.7" letter-spacing="0.4" text-anchor="end" stroke="#161616" stroke-width="0.3">3</text>
<line x1="225.9" y1="387.3" x2="225.9" y2="389.9" stroke="#4a4a4a" stroke-width="1.2"/>
<text x="226.8" y="399.3" font-size="8.0" letter-spacing="0.35" text-anchor="middle" stroke="#161616" stroke-width="0.3">1</text>
<line x1="282.9" y1="387.3" x2="282.9" y2="389.9" stroke="#4a4a4a" stroke-width="1.2"/>
<text x="283.3" y="399.3" font-size="8.0" letter-spacing="0.35" text-anchor="middle" stroke="#161616" stroke-width="0.3">60</text>
<line x1="340.9" y1="387.3" x2="340.9" y2="389.9" stroke="#4a4a4a" stroke-width="1.2"/>
<text x="341.1" y="399.3" font-size="8.0" letter-spacing="0.35" text-anchor="middle" stroke="#161616" stroke-width="0.3">120</text>
<line x1="398.9" y1="387.3" x2="398.9" y2="389.9" stroke="#4a4a4a" stroke-width="1.2"/>
<text x="397.8" y="399.3" font-size="8.0" letter-spacing="0.35" text-anchor="middle" stroke="#161616" stroke-width="0.3">180</text>
<text x="278.5" y="408.5" font-size="10.3" letter-spacing="0.2" stroke="#161616" stroke-width="0.2" textLength="70.5" lengthAdjust="spacingAndGlyphs">Test area series</text>
<text transform="translate(214.3,362.7) rotate(-90)" font-size="9.4" letter-spacing="0.8" textLength="58.5" lengthAdjust="spacingAndGlyphs">Yield(t·ha<tspan font-size="5.2" dy="-4.4" letter-spacing="0.3">−1</tspan><tspan dy="4.4">)</tspan></text>
<text x="228.8" y="288.3" font-size="8" letter-spacing="0.6" textLength="11" lengthAdjust="spacingAndGlyphs">(f)</text>
<text x="342.2" y="377.2" font-size="7.4" letter-spacing="0.9" stroke="#161616" stroke-width="0.2" textLength="48.1" lengthAdjust="spacingAndGlyphs">Input:T2+T3</text>
</g>
<g>
<g filter="url(#bl)">
<path fill="none" stroke="#605858" stroke-width="1.2" stroke-linejoin="round" d="M26.4,450.5C26.7,452.3 27.6,457.6 28.1,461.2C28.7,464.8 29.4,470.1 29.7,472.0C30.0,473.9 29.5,475.3 29.8,472.7C30.1,470.2 31.0,460.8 31.5,456.6C32.0,452.4 32.3,449.5 32.8,447.5C33.3,445.6 33.9,447.3 34.4,444.9C34.9,442.6 35.4,431.1 35.9,433.3C36.4,435.6 36.9,451.7 37.2,458.5C37.6,465.2 37.8,473.0 38.0,474.0C38.2,475.0 38.3,467.6 38.7,464.6C39.1,461.6 39.8,456.6 40.4,455.9C41.0,455.3 41.8,461.4 42.3,460.5C42.8,459.7 43.4,452.7 43.7,451.0C44.0,449.3 43.9,446.9 44.2,450.4C44.5,453.9 45.3,468.4 45.6,472.0C45.9,475.6 45.7,475.5 46.1,471.9C46.5,468.3 47.4,456.0 48.0,450.5C48.6,444.9 49.3,438.6 49.9,438.6C50.5,438.6 51.2,445.8 51.8,450.5C52.4,455.1 53.1,465.5 53.7,466.5C54.4,467.4 55.1,457.3 55.7,456.0C56.4,454.8 57.0,459.1 57.6,459.0C58.2,459.0 58.9,455.3 59.5,455.8C60.1,456.3 60.8,462.0 61.4,462.0C62.0,462.1 62.7,458.9 63.3,456.0C63.9,453.2 64.4,443.1 64.9,445.0C65.4,447.0 65.8,465.8 66.4,467.8C67.0,469.8 67.8,459.8 68.4,457.2C69.0,454.6 69.7,453.8 70.3,452.2C70.9,450.5 71.6,444.7 72.2,447.2C72.8,449.7 73.4,465.1 74.1,467.1C74.8,469.1 75.5,460.2 76.2,459.4C76.9,458.7 77.3,465.6 78.1,462.4C78.8,459.3 80.0,441.6 80.7,440.7C81.5,439.8 82.0,453.2 82.6,456.9C83.2,460.6 83.9,461.9 84.5,463.1C85.1,464.3 85.8,465.8 86.4,463.9C87.0,462.0 87.7,452.8 88.3,451.7C88.9,450.7 89.7,458.3 90.2,457.6C90.7,456.9 91.0,447.3 91.5,447.5C92.0,447.6 92.7,457.8 93.4,458.4C94.1,458.9 95.1,451.6 95.9,450.9C96.8,450.1 97.7,452.5 98.5,453.9C99.3,455.4 100.3,459.3 101.0,459.8C101.7,460.3 102.3,458.5 102.9,457.1C103.5,455.7 104.3,450.4 104.8,451.3C105.3,452.1 105.5,461.1 106.1,462.2C106.7,463.3 107.8,458.4 108.6,457.8C109.4,457.3 110.3,457.6 111.2,458.9C112.1,460.3 113.0,465.4 113.7,466.0C114.4,466.7 115.1,462.9 115.6,462.8C116.1,462.7 116.0,467.8 116.5,465.4C117.0,462.9 118.2,448.3 118.8,448.0C119.4,447.6 119.8,458.4 120.3,463.4C120.8,468.3 121.3,479.6 121.8,477.6C122.3,475.6 123.0,452.3 123.5,451.5C124.0,450.8 124.6,473.1 125.1,473.1C125.6,473.2 126.2,452.6 126.7,452.0C127.2,451.4 127.6,467.6 128.2,469.3C128.8,471.0 129.5,462.5 130.2,462.3C130.9,462.2 131.7,468.1 132.4,468.5C133.1,468.8 133.6,464.4 134.3,464.4C135.0,464.3 136.0,467.1 136.8,468.2C137.7,469.2 138.7,468.2 139.4,470.8C140.2,473.4 140.7,482.1 141.3,483.9C141.9,485.7 142.9,480.9 143.2,481.6C143.5,482.3 143.1,486.9 143.3,488.0C143.6,489.1 144.2,490.6 144.7,488.1C145.2,485.5 145.8,478.0 146.4,472.7C147.0,467.3 147.4,456.9 148.0,455.9C148.6,454.9 149.2,461.9 149.8,466.7C150.4,471.5 151.2,480.9 151.8,484.7C152.4,488.5 153.0,490.6 153.6,489.4C154.2,488.2 155.0,477.1 155.3,477.7C155.7,478.3 155.5,490.4 155.7,493.0C155.9,495.6 156.2,493.2 156.4,493.0C156.6,492.8 156.6,494.8 156.9,491.6C157.2,488.4 157.9,472.8 158.5,473.8C159.1,474.9 159.8,496.3 160.4,497.7C161.0,499.1 161.7,489.4 162.3,482.3C162.9,475.1 163.6,459.6 164.2,454.9C164.8,450.2 165.4,454.6 166.1,454.2C166.8,453.8 167.9,453.7 168.3,452.3C168.7,450.9 168.1,444.6 168.4,445.6C168.7,446.6 169.6,455.5 170.2,458.4C170.8,461.2 171.5,463.9 172.1,462.7C172.7,461.5 173.4,454.0 174.0,451.2C174.6,448.5 175.1,444.7 175.7,446.3C176.3,447.9 176.9,460.5 177.5,461.0C178.1,461.5 178.9,449.1 179.5,449.3C180.1,449.6 180.7,461.5 181.3,462.6C181.9,463.8 182.8,454.7 183.3,456.4C183.9,458.2 184.3,471.3 184.6,473.0C184.9,474.7 184.7,467.3 185.1,466.4C185.5,465.6 186.6,469.8 187.1,467.7C187.6,465.7 187.8,455.2 188.1,454.0C188.3,452.8 188.2,458.2 188.6,460.3C189.0,462.4 189.9,463.1 190.5,466.8C191.1,470.4 191.7,478.8 192.2,482.2C192.7,485.5 193.2,488.1 193.5,487.0C193.8,485.9 193.6,476.8 194.0,475.8C194.4,474.9 195.4,482.0 196.0,481.2C196.6,480.4 197.5,473.0 197.8,471.0C198.1,469.0 198.0,469.3 198.0,469.0"/>
<path fill="none" stroke="#22b5e8" stroke-width="1.75" stroke-linejoin="round" d="M25.9,452.6C26.2,453.9 27.0,457.7 27.6,460.2C28.2,462.8 28.7,468.5 29.3,467.9C29.9,467.3 30.5,459.6 31.0,456.4C31.5,453.2 31.8,450.5 32.3,448.8C32.8,447.1 33.4,448.0 33.9,446.3C34.4,444.6 34.9,436.9 35.4,438.6C35.9,440.3 36.2,452.6 36.7,456.4C37.2,460.2 37.7,461.5 38.2,461.5C38.7,461.5 39.3,456.6 39.9,456.4C40.5,456.2 41.2,460.8 41.8,460.2C42.4,459.6 43.1,451.5 43.7,452.6C44.3,453.7 45.0,466.8 45.6,466.6C46.2,466.4 46.9,455.1 47.5,451.3C48.1,447.5 48.8,443.7 49.4,443.7C50.0,443.7 50.7,448.1 51.3,451.3C51.9,454.5 52.6,462.0 53.2,462.8C53.9,463.6 54.6,457.0 55.2,456.4C55.9,455.8 56.5,459.0 57.1,459.0C57.7,459.0 58.4,456.2 59.0,456.4C59.6,456.6 60.3,460.2 60.9,460.2C61.5,460.2 62.2,458.3 62.8,456.4C63.4,454.5 63.9,447.5 64.4,448.8C64.9,450.1 65.3,462.8 65.9,464.1C66.5,465.4 67.2,458.1 67.9,456.4C68.6,454.7 69.2,454.9 69.8,453.9C70.4,452.8 71.1,448.4 71.7,450.1C72.3,451.8 72.9,462.7 73.6,464.1C74.3,465.5 75.0,458.9 75.7,458.3C76.4,457.8 76.8,462.9 77.6,460.8C78.3,458.7 79.5,446.2 80.2,445.6C81.0,445.0 81.5,454.5 82.1,457.0C82.7,459.5 83.4,459.9 84.0,460.8C84.6,461.7 85.3,463.4 85.9,462.1C86.5,460.8 87.2,454.1 87.8,453.2C88.4,452.3 89.2,457.6 89.7,457.0C90.2,456.4 90.5,449.4 91.0,449.4C91.5,449.4 92.2,456.6 92.9,457.0C93.6,457.4 94.6,452.3 95.4,451.9C96.2,451.5 97.2,453.4 98.0,454.5C98.8,455.6 99.8,457.9 100.5,458.3C101.2,458.7 101.8,457.9 102.4,457.0C103.0,456.1 103.8,452.6 104.3,453.2C104.8,453.8 105.0,459.9 105.6,460.8C106.2,461.7 107.2,458.5 108.1,458.3C108.9,458.1 109.8,458.5 110.7,459.6C111.6,460.7 112.5,464.3 113.2,464.7C113.9,465.1 114.6,462.2 115.1,462.1C115.6,462.0 115.5,465.7 116.0,464.1C116.5,462.5 117.7,452.8 118.3,452.6C118.9,452.4 119.3,459.4 119.8,462.8C120.3,466.2 120.8,474.3 121.3,473.0C121.8,471.7 122.5,455.6 123.0,455.2C123.6,454.8 124.1,470.4 124.6,470.4C125.1,470.4 125.7,455.6 126.2,455.2C126.7,454.8 127.1,466.6 127.7,467.9C128.3,469.2 129.0,462.8 129.7,462.8C130.4,462.8 131.2,467.5 131.9,467.9C132.6,468.3 133.1,465.1 133.8,465.3C134.5,465.5 135.4,468.0 136.3,469.1C137.1,470.2 138.2,469.6 138.9,471.7C139.7,473.8 140.2,480.4 140.8,481.9C141.4,483.4 142.1,480.2 142.7,480.6C143.3,481.0 143.7,485.7 144.2,484.4C144.7,483.1 145.3,476.8 145.9,473.0C146.5,469.2 146.9,462.1 147.5,461.5C148.1,460.9 148.7,465.7 149.3,469.1C149.9,472.5 150.7,478.9 151.3,481.9C151.9,484.9 152.5,487.3 153.1,486.9C153.7,486.5 154.2,478.9 154.8,479.3C155.4,479.7 155.9,489.9 156.4,489.5C156.9,489.1 157.4,476.4 158.0,476.8C158.6,477.2 159.3,491.6 159.9,492.0C160.5,492.4 161.2,484.8 161.8,479.3C162.4,473.8 163.1,462.8 163.7,459.0C164.3,455.2 164.9,457.2 165.6,456.4C166.3,455.5 167.1,453.7 167.8,453.9C168.5,454.1 169.1,456.7 169.7,457.7C170.3,458.8 171.0,461.1 171.6,460.2C172.2,459.4 172.9,454.5 173.5,452.6C174.1,450.7 174.6,447.7 175.2,448.8C175.8,449.9 176.4,458.6 177.0,459.0C177.6,459.4 178.4,450.9 179.0,451.3C179.6,451.7 180.2,460.4 180.8,461.5C181.4,462.6 182.2,457.1 182.8,457.7C183.4,458.3 184.0,463.8 184.6,465.3C185.2,466.8 186.0,467.0 186.6,466.6C187.2,466.2 187.5,462.6 188.1,462.8C188.7,463.0 189.4,465.1 190.0,467.9C190.6,470.6 191.1,478.0 191.7,479.3C192.3,480.6 192.9,475.5 193.5,475.5C194.1,475.5 194.9,479.9 195.5,479.3C196.1,478.7 196.9,473.2 197.3,471.7C197.7,470.1 197.9,470.3 198.0,470.0"/>
</g>
<rect x="25.2" y="417.0" width="172.8" height="108.0" fill="none" stroke="#4a4a4a" stroke-width="1.3"/>
<line x1="22.4" y1="419.0" x2="25.2" y2="419.0" stroke="#4a4a4a" stroke-width="1.2"/>
<text x="21.3" y="421.7" font-size="7.7" letter-spacing="0.4" text-anchor="end" stroke="#161616" stroke-width="0.3">12</text>
<line x1="22.4" y1="454.3" x2="25.2" y2="454.3" stroke="#4a4a4a" stroke-width="1.2"/>
<text x="21.3" y="457.0" font-size="7.7" letter-spacing="0.4" text-anchor="end" stroke="#161616" stroke-width="0.3">9</text>
<line x1="22.4" y1="489.7" x2="25.2" y2="489.7" stroke="#4a4a4a" stroke-width="1.2"/>
<text x="21.3" y="492.4" font-size="7.7" letter-spacing="0.4" text-anchor="end" stroke="#161616" stroke-width="0.3">6</text>
<line x1="22.4" y1="525.0" x2="25.2" y2="525.0" stroke="#4a4a4a" stroke-width="1.2"/>
<text x="21.3" y="527.7" font-size="7.7" letter-spacing="0.4" text-anchor="end" stroke="#161616" stroke-width="0.3">3</text>
<line x1="25.2" y1="525.0" x2="25.2" y2="527.6" stroke="#4a4a4a" stroke-width="1.2"/>
<text x="26.1" y="537.0" font-size="8.0" letter-spacing="0.35" text-anchor="middle" stroke="#161616" stroke-width="0.3">1</text>
<line x1="82.2" y1="525.0" x2="82.2" y2="527.6" stroke="#4a4a4a" stroke-width="1.2"/>
<text x="82.6" y="537.0" font-size="8.0" letter-spacing="0.35" text-anchor="middle" stroke="#161616" stroke-width="0.3">60</text>
<line x1="140.1" y1="525.0" x2="140.1" y2="527.6" stroke="#4a4a4a" stroke-width="1.2"/>
<text x="140.3" y="537.0" font-size="8.0" letter-spacing="0.35" text-anchor="middle" stroke="#161616" stroke-width="0.3">120</text>
<line x1="198.0" y1="525.0" x2="198.0" y2="527.6" stroke="#4a4a4a" stroke-width="1.2"/>
<text x="196.9" y="537.0" font-size="8.0" letter-spacing="0.35" text-anchor="middle" stroke="#161616" stroke-width="0.3">180</text>
<text x="77.8" y="546.2" font-size="10.3" letter-spacing="0.2" stroke="#161616" stroke-width="0.2" textLength="70.5" lengthAdjust="spacingAndGlyphs">Test area series</text>
<text transform="translate(13.6,500.4) rotate(-90)" font-size="9.4" letter-spacing="0.8" textLength="58.5" lengthAdjust="spacingAndGlyphs">Yield(t·ha<tspan font-size="5.2" dy="-4.4" letter-spacing="0.3">−1</tspan><tspan dy="4.4">)</tspan></text>
<text x="28.1" y="425.6" font-size="8" letter-spacing="0.6" textLength="11" lengthAdjust="spacingAndGlyphs">(g)</text>
<text x="135.3" y="514.2" font-size="7.4" letter-spacing="0.9" stroke="#161616" stroke-width="0.2" textLength="60.5" lengthAdjust="spacingAndGlyphs">Input:T1+T2+T3</text>
</g>
</svg></body></html>
